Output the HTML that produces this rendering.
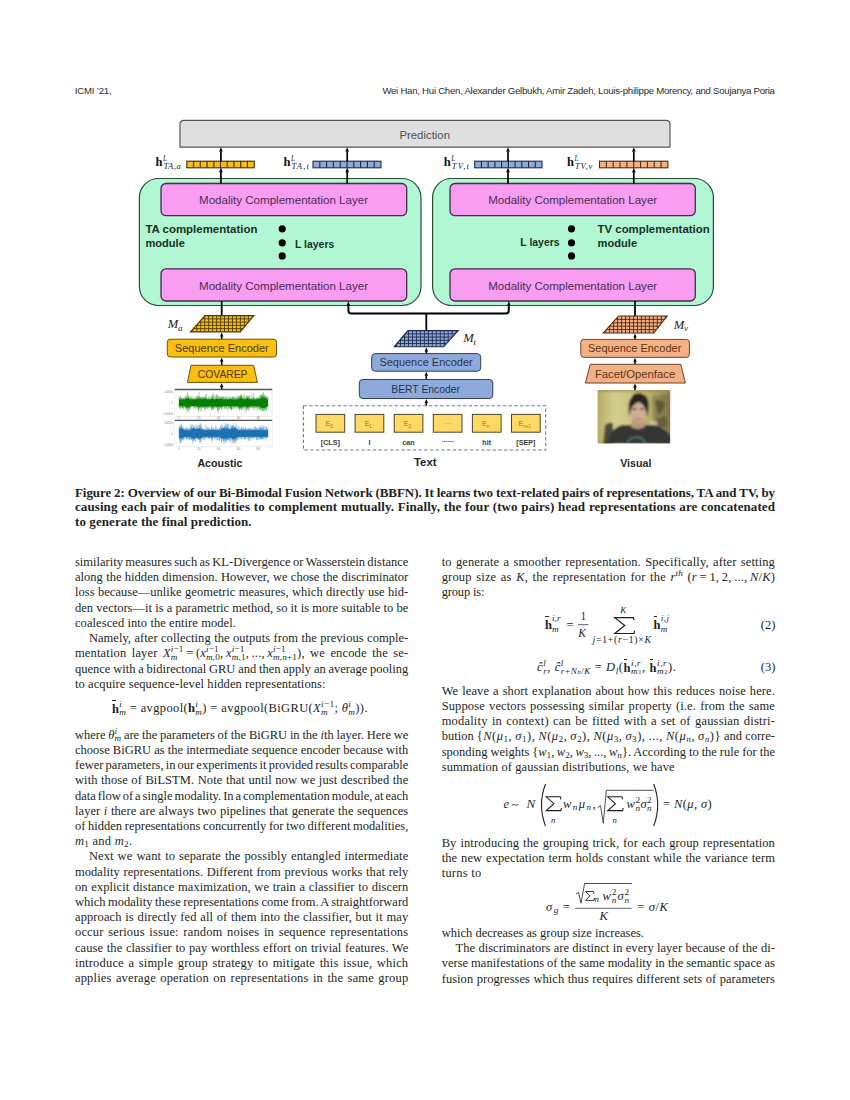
<!DOCTYPE html><html><head><meta charset="utf-8"><style>
html,body{margin:0;padding:0;background:#fff}
body{width:850px;height:1100px;position:relative;overflow:hidden}
.ln,.cap,.hd{position:absolute;white-space:nowrap;line-height:0;color:#231f20}
.ln{font-family:"Liberation Serif",serif;font-size:12.5px}
.cap{font-family:"Liberation Serif",serif;font-size:13px;font-weight:bold}
.hd{font-family:"Liberation Sans",sans-serif;font-size:9.6px;color:#2a2a2a}
.pr{display:inline-block;width:0;height:0}
.sp{font-size:9.2px;vertical-align:4.8px}
.sb{font-size:9.2px;vertical-align:-2.4px}
.ss{display:inline-block;font-size:9.2px;line-height:7.9px;vertical-align:-2.7px;word-spacing:0}
.ss>span{display:block}
.ss2{line-height:10.2px;vertical-align:-2.5px}
.hb{position:relative}
.hb::before{content:"";position:absolute;left:0.3px;top:-1.6px;width:3.4px;height:0.8px;background:#231f20}
.eqp{position:absolute;white-space:nowrap;line-height:0;font-family:"Liberation Serif",serif;color:#231f20}
</style></head><body><svg width="850" height="480" viewBox="0 0 850 480" style="position:absolute;left:0;top:0"><path d="M180,147.2 V124.3 Q180,120.3 184,120.3 H666 Q670,120.3 670,124.3 V147.2 Z" fill="#dfdfdf" stroke="#555" stroke-width="1.2"/><text x="399.4" y="138.9" font-family="Liberation Sans" font-size="11" font-weight="normal" font-style="normal" fill="#505050" text-anchor="start" textLength="50.6" lengthAdjust="spacingAndGlyphs">Prediction</text><rect x="186.8" y="161.2" width="67.39999999999998" height="6.600000000000023" fill="#fbbf12" stroke="#3a2c00" stroke-width="1.1"/><line x1="193.54" y1="161.2" x2="193.54" y2="167.8" stroke="#3a2c00" stroke-width="1.1"/><line x1="200.28" y1="161.2" x2="200.28" y2="167.8" stroke="#3a2c00" stroke-width="1.1"/><line x1="207.02" y1="161.2" x2="207.02" y2="167.8" stroke="#3a2c00" stroke-width="1.1"/><line x1="213.76" y1="161.2" x2="213.76" y2="167.8" stroke="#3a2c00" stroke-width="1.1"/><line x1="220.50" y1="161.2" x2="220.50" y2="167.8" stroke="#3a2c00" stroke-width="1.1"/><line x1="227.24" y1="161.2" x2="227.24" y2="167.8" stroke="#3a2c00" stroke-width="1.1"/><line x1="233.98" y1="161.2" x2="233.98" y2="167.8" stroke="#3a2c00" stroke-width="1.1"/><line x1="240.72" y1="161.2" x2="240.72" y2="167.8" stroke="#3a2c00" stroke-width="1.1"/><line x1="247.46" y1="161.2" x2="247.46" y2="167.8" stroke="#3a2c00" stroke-width="1.1"/><rect x="313" y="161.2" width="68" height="6.600000000000023" fill="#8eaadb" stroke="#1e2848" stroke-width="1.1"/><line x1="319.80" y1="161.2" x2="319.80" y2="167.8" stroke="#1e2848" stroke-width="1.1"/><line x1="326.60" y1="161.2" x2="326.60" y2="167.8" stroke="#1e2848" stroke-width="1.1"/><line x1="333.40" y1="161.2" x2="333.40" y2="167.8" stroke="#1e2848" stroke-width="1.1"/><line x1="340.20" y1="161.2" x2="340.20" y2="167.8" stroke="#1e2848" stroke-width="1.1"/><line x1="347.00" y1="161.2" x2="347.00" y2="167.8" stroke="#1e2848" stroke-width="1.1"/><line x1="353.80" y1="161.2" x2="353.80" y2="167.8" stroke="#1e2848" stroke-width="1.1"/><line x1="360.60" y1="161.2" x2="360.60" y2="167.8" stroke="#1e2848" stroke-width="1.1"/><line x1="367.40" y1="161.2" x2="367.40" y2="167.8" stroke="#1e2848" stroke-width="1.1"/><line x1="374.20" y1="161.2" x2="374.20" y2="167.8" stroke="#1e2848" stroke-width="1.1"/><rect x="474.7" y="161.2" width="67.30000000000001" height="6.600000000000023" fill="#8eaadb" stroke="#1e2848" stroke-width="1.1"/><line x1="481.43" y1="161.2" x2="481.43" y2="167.8" stroke="#1e2848" stroke-width="1.1"/><line x1="488.16" y1="161.2" x2="488.16" y2="167.8" stroke="#1e2848" stroke-width="1.1"/><line x1="494.89" y1="161.2" x2="494.89" y2="167.8" stroke="#1e2848" stroke-width="1.1"/><line x1="501.62" y1="161.2" x2="501.62" y2="167.8" stroke="#1e2848" stroke-width="1.1"/><line x1="508.35" y1="161.2" x2="508.35" y2="167.8" stroke="#1e2848" stroke-width="1.1"/><line x1="515.08" y1="161.2" x2="515.08" y2="167.8" stroke="#1e2848" stroke-width="1.1"/><line x1="521.81" y1="161.2" x2="521.81" y2="167.8" stroke="#1e2848" stroke-width="1.1"/><line x1="528.54" y1="161.2" x2="528.54" y2="167.8" stroke="#1e2848" stroke-width="1.1"/><line x1="535.27" y1="161.2" x2="535.27" y2="167.8" stroke="#1e2848" stroke-width="1.1"/><rect x="599.5" y="161.2" width="68.39999999999998" height="6.600000000000023" fill="#f4b183" stroke="#4a2a18" stroke-width="1.1"/><line x1="606.34" y1="161.2" x2="606.34" y2="167.8" stroke="#4a2a18" stroke-width="1.1"/><line x1="613.18" y1="161.2" x2="613.18" y2="167.8" stroke="#4a2a18" stroke-width="1.1"/><line x1="620.02" y1="161.2" x2="620.02" y2="167.8" stroke="#4a2a18" stroke-width="1.1"/><line x1="626.86" y1="161.2" x2="626.86" y2="167.8" stroke="#4a2a18" stroke-width="1.1"/><line x1="633.70" y1="161.2" x2="633.70" y2="167.8" stroke="#4a2a18" stroke-width="1.1"/><line x1="640.54" y1="161.2" x2="640.54" y2="167.8" stroke="#4a2a18" stroke-width="1.1"/><line x1="647.38" y1="161.2" x2="647.38" y2="167.8" stroke="#4a2a18" stroke-width="1.1"/><line x1="654.22" y1="161.2" x2="654.22" y2="167.8" stroke="#4a2a18" stroke-width="1.1"/><line x1="661.06" y1="161.2" x2="661.06" y2="167.8" stroke="#4a2a18" stroke-width="1.1"/><text x="155.4" y="165.6" font-family="Liberation Serif" font-size="12.6" font-weight="bold" fill="#111">h</text><text x="163.0" y="160.6" font-family="Liberation Serif" font-size="7.6" font-style="italic" fill="#222" textLength="4" lengthAdjust="spacingAndGlyphs">L</text><text x="163.4" y="168.5" font-family="Liberation Serif" font-size="8.6" font-style="italic" fill="#222" textLength="17.3" lengthAdjust="spacing">TA,a</text><text x="283.5" y="165.6" font-family="Liberation Serif" font-size="12.6" font-weight="bold" fill="#111">h</text><text x="291.1" y="160.6" font-family="Liberation Serif" font-size="7.6" font-style="italic" fill="#222" textLength="4" lengthAdjust="spacingAndGlyphs">L</text><text x="291.5" y="168.5" font-family="Liberation Serif" font-size="8.6" font-style="italic" fill="#222" textLength="17.3" lengthAdjust="spacing">TA,t</text><text x="443.7" y="165.6" font-family="Liberation Serif" font-size="12.6" font-weight="bold" fill="#111">h</text><text x="451.3" y="160.6" font-family="Liberation Serif" font-size="7.6" font-style="italic" fill="#222" textLength="4" lengthAdjust="spacingAndGlyphs">L</text><text x="451.7" y="168.5" font-family="Liberation Serif" font-size="8.6" font-style="italic" fill="#222" textLength="17.3" lengthAdjust="spacing">TV,t</text><text x="567" y="165.6" font-family="Liberation Serif" font-size="12.6" font-weight="bold" fill="#111">h</text><text x="574.6" y="160.6" font-family="Liberation Serif" font-size="7.6" font-style="italic" fill="#222" textLength="4" lengthAdjust="spacingAndGlyphs">L</text><text x="575" y="168.5" font-family="Liberation Serif" font-size="8.6" font-style="italic" fill="#222" textLength="17.3" lengthAdjust="spacing">TV,v</text><rect x="139.4" y="178.5" width="281.6" height="127" rx="19" ry="19" fill="#b2f7d3" stroke="#2c4a3a" stroke-width="1.2"/><rect x="432.6" y="178.5" width="280.8" height="127" rx="19" ry="19" fill="#b2f7d3" stroke="#2c4a3a" stroke-width="1.2"/><rect x="161" y="183.5" width="245.7" height="32.2" rx="5" ry="5" fill="#f99df2" stroke="#4a2a48" stroke-width="1.3"/><rect x="161" y="268.8" width="245.7" height="32.2" rx="5" ry="5" fill="#f99df2" stroke="#4a2a48" stroke-width="1.3"/><rect x="450" y="183.5" width="245.29999999999995" height="32.2" rx="5" ry="5" fill="#f99df2" stroke="#4a2a48" stroke-width="1.3"/><rect x="450" y="268.8" width="245.29999999999995" height="32.2" rx="5" ry="5" fill="#f99df2" stroke="#4a2a48" stroke-width="1.3"/><text x="199" y="203.9" font-family="Liberation Sans" font-size="11" font-weight="normal" font-style="normal" fill="#4a2c55" text-anchor="start" textLength="169" lengthAdjust="spacingAndGlyphs">Modality Complementation Layer</text><text x="199" y="289.5" font-family="Liberation Sans" font-size="11" font-weight="normal" font-style="normal" fill="#4a2c55" text-anchor="start" textLength="169" lengthAdjust="spacingAndGlyphs">Modality Complementation Layer</text><text x="488.2" y="203.9" font-family="Liberation Sans" font-size="11" font-weight="normal" font-style="normal" fill="#4a2c55" text-anchor="start" textLength="169" lengthAdjust="spacingAndGlyphs">Modality Complementation Layer</text><text x="488.2" y="289.5" font-family="Liberation Sans" font-size="11" font-weight="normal" font-style="normal" fill="#4a2c55" text-anchor="start" textLength="169" lengthAdjust="spacingAndGlyphs">Modality Complementation Layer</text><text x="145.4" y="233.2" font-family="Liberation Sans" font-size="11" font-weight="bold" font-style="normal" fill="#17301f" text-anchor="start" textLength="112" lengthAdjust="spacingAndGlyphs">TA complementation</text><text x="145.4" y="247.4" font-family="Liberation Sans" font-size="11" font-weight="bold" font-style="normal" fill="#17301f" text-anchor="start" textLength="39.5" lengthAdjust="spacingAndGlyphs">module</text><text x="597.6" y="233.2" font-family="Liberation Sans" font-size="11" font-weight="bold" font-style="normal" fill="#17301f" text-anchor="start" textLength="112" lengthAdjust="spacingAndGlyphs">TV complementation</text><text x="597.6" y="247.4" font-family="Liberation Sans" font-size="11" font-weight="bold" font-style="normal" fill="#17301f" text-anchor="start" textLength="39.5" lengthAdjust="spacingAndGlyphs">module</text><text x="295" y="247.6" font-family="Liberation Sans" font-size="11" font-weight="bold" font-style="normal" fill="#17301f" text-anchor="start" textLength="39.3" lengthAdjust="spacingAndGlyphs">L layers</text><text x="520.3" y="246.3" font-family="Liberation Sans" font-size="11" font-weight="bold" font-style="normal" fill="#17301f" text-anchor="start" textLength="39.3" lengthAdjust="spacingAndGlyphs">L layers</text><circle cx="282.2" cy="228.8" r="3.6" fill="#000"/><circle cx="282.2" cy="242.8" r="3.6" fill="#000"/><circle cx="282.2" cy="255.9" r="3.6" fill="#000"/><circle cx="571.5" cy="228.8" r="3.6" fill="#000"/><circle cx="571.5" cy="242.8" r="3.6" fill="#000"/><circle cx="571.5" cy="255.9" r="3.6" fill="#000"/><line x1="220.9" y1="183.5" x2="220.9" y2="172" stroke="#000" stroke-width="1.7"/><path d="M220.9,167.6 L219.1,172.2 L222.70000000000002,172.2 Z" fill="#000"/><line x1="220.9" y1="161.5" x2="220.9" y2="152" stroke="#000" stroke-width="1.7"/><path d="M220.9,147.2 L219.1,151.79999999999998 L222.70000000000002,151.79999999999998 Z" fill="#000"/><line x1="347.2" y1="183.5" x2="347.2" y2="172" stroke="#000" stroke-width="1.7"/><path d="M347.2,167.6 L345.4,172.2 L349.0,172.2 Z" fill="#000"/><line x1="347.2" y1="161.5" x2="347.2" y2="152" stroke="#000" stroke-width="1.7"/><path d="M347.2,147.2 L345.4,151.79999999999998 L349.0,151.79999999999998 Z" fill="#000"/><line x1="508" y1="183.5" x2="508" y2="172" stroke="#000" stroke-width="1.7"/><path d="M508,167.6 L506.2,172.2 L509.8,172.2 Z" fill="#000"/><line x1="508" y1="161.5" x2="508" y2="152" stroke="#000" stroke-width="1.7"/><path d="M508,147.2 L506.2,151.79999999999998 L509.8,151.79999999999998 Z" fill="#000"/><line x1="633.8" y1="183.5" x2="633.8" y2="172" stroke="#000" stroke-width="1.7"/><path d="M633.8,167.6 L632.0,172.2 L635.5999999999999,172.2 Z" fill="#000"/><line x1="633.8" y1="161.5" x2="633.8" y2="152" stroke="#000" stroke-width="1.7"/><path d="M633.8,147.2 L632.0,151.79999999999998 L635.5999999999999,151.79999999999998 Z" fill="#000"/><path d="M348.4,305 V310.5 Q348.4,313.5 351.4,313.5 H505.8 Q508.8,313.5 508.8,310.5 V305" fill="none" stroke="#000" stroke-width="2"/><path d="M348.4,301 L346.59999999999997,305.6 L350.2,305.6 Z" fill="#000"/><path d="M508.8,301 L507.0,305.6 L510.6,305.6 Z" fill="#000"/><line x1="426.3" y1="313.5" x2="426.3" y2="331" stroke="#000" stroke-width="1.8"/><line x1="221.7" y1="301" x2="221.7" y2="316" stroke="#000" stroke-width="1.8"/><defs><clipPath id="pc7"><path d="M204.9,315.6 L253.9,315.6 L240.2,331.9 L190.4,331.9 Z"/></clipPath></defs><path d="M204.9,315.6 L253.9,315.6 L240.2,331.9 L190.4,331.9 Z" fill="#fbbf12"/><g clip-path="url(#pc7)"><line x1="192.78" y1="315.6" x2="192.78" y2="331.9" stroke="#4a3a08" stroke-width="0.9"/><line x1="196.75" y1="315.6" x2="196.75" y2="331.9" stroke="#4a3a08" stroke-width="0.9"/><line x1="200.72" y1="315.6" x2="200.72" y2="331.9" stroke="#4a3a08" stroke-width="0.9"/><line x1="204.69" y1="315.6" x2="204.69" y2="331.9" stroke="#4a3a08" stroke-width="0.9"/><line x1="208.66" y1="315.6" x2="208.66" y2="331.9" stroke="#4a3a08" stroke-width="0.9"/><line x1="212.63" y1="315.6" x2="212.63" y2="331.9" stroke="#4a3a08" stroke-width="0.9"/><line x1="216.60" y1="315.6" x2="216.60" y2="331.9" stroke="#4a3a08" stroke-width="0.9"/><line x1="220.57" y1="315.6" x2="220.57" y2="331.9" stroke="#4a3a08" stroke-width="0.9"/><line x1="224.54" y1="315.6" x2="224.54" y2="331.9" stroke="#4a3a08" stroke-width="0.9"/><line x1="228.51" y1="315.6" x2="228.51" y2="331.9" stroke="#4a3a08" stroke-width="0.9"/><line x1="232.48" y1="315.6" x2="232.48" y2="331.9" stroke="#4a3a08" stroke-width="0.9"/><line x1="236.45" y1="315.6" x2="236.45" y2="331.9" stroke="#4a3a08" stroke-width="0.9"/><line x1="240.42" y1="315.6" x2="240.42" y2="331.9" stroke="#4a3a08" stroke-width="0.9"/><line x1="244.39" y1="315.6" x2="244.39" y2="331.9" stroke="#4a3a08" stroke-width="0.9"/><line x1="248.36" y1="315.6" x2="248.36" y2="331.9" stroke="#4a3a08" stroke-width="0.9"/><line x1="252.33" y1="315.6" x2="252.33" y2="331.9" stroke="#4a3a08" stroke-width="0.9"/><line x1="190.4" y1="318.86" x2="253.9" y2="318.86" stroke="#4a3a08" stroke-width="0.9"/><line x1="190.4" y1="322.12" x2="253.9" y2="322.12" stroke="#4a3a08" stroke-width="0.9"/><line x1="190.4" y1="325.38" x2="253.9" y2="325.38" stroke="#4a3a08" stroke-width="0.9"/><line x1="190.4" y1="328.64" x2="253.9" y2="328.64" stroke="#4a3a08" stroke-width="0.9"/></g><path d="M204.9,315.6 L253.9,315.6 L240.2,331.9 L190.4,331.9 Z" fill="none" stroke="#4a3a08" stroke-width="1.1"/><path d="M221.7,332.5 L220.0,336.5 L223.39999999999998,336.5 Z" fill="#000"/><line x1="221.7" y1="336" x2="221.7" y2="339.5" stroke="#000" stroke-width="1.6"/><rect x="167.3" y="339.2" width="109.2" height="17.8" rx="3" ry="3" fill="#fbbf12" stroke="#6a5210" stroke-width="1"/><text x="174.8" y="352.4" font-family="Liberation Sans" font-size="11" font-weight="normal" font-style="normal" fill="#4e3a08" text-anchor="start" textLength="94" lengthAdjust="spacingAndGlyphs">Sequence Encoder</text><path d="M221.7,357.5 L220.0,361.5 L223.39999999999998,361.5 Z" fill="#000"/><line x1="221.7" y1="361" x2="221.7" y2="365.3" stroke="#000" stroke-width="1.6"/><path d="M191,365.3 L253.6,365.3 L257.4,382.4 L187.5,382.4 Z" fill="#fbbf12" stroke="#6a5210" stroke-width="1"/><text x="197.8" y="378.2" font-family="Liberation Sans" font-size="11" font-weight="normal" font-style="normal" fill="#4e3a08" text-anchor="start" textLength="49.7" lengthAdjust="spacingAndGlyphs">COVAREP</text><path d="M221.7,383 L220.0,387 L223.39999999999998,387 Z" fill="#000"/><line x1="221.7" y1="386" x2="221.7" y2="389.5" stroke="#000" stroke-width="1.6"/><rect x="174.8" y="389.5" width="97.4" height="26.8" fill="#fff" stroke="#e3e3e3" stroke-width="0.6"/><line x1="174.8" y1="389.5" x2="272.2" y2="389.5" stroke="#555" stroke-width="1.3"/><polygon points="179.00,399.60 179.25,399.60 179.50,399.60 179.75,399.60 180.00,399.60 180.25,399.60 180.50,399.60 180.75,399.60 181.01,399.60 181.26,399.60 181.51,399.60 181.76,399.60 182.01,399.60 182.26,399.60 182.51,399.60 182.76,399.60 183.01,399.60 183.26,399.60 183.51,399.60 183.76,399.60 184.01,399.60 184.26,399.60 184.52,399.60 184.77,399.60 185.02,399.48 185.27,399.23 185.52,399.12 185.77,398.78 186.02,398.71 186.27,398.50 186.52,398.50 186.77,398.22 187.02,398.21 187.27,398.13 187.52,398.03 187.77,397.93 188.03,398.14 188.28,398.32 188.53,398.51 188.78,398.59 189.03,398.82 189.28,398.94 189.53,399.03 189.78,399.08 190.03,399.27 190.28,399.39 190.53,399.60 190.78,399.60 191.03,399.60 191.28,399.60 191.54,399.60 191.79,399.60 192.04,399.60 192.29,399.60 192.54,399.60 192.79,399.60 193.04,399.60 193.29,399.60 193.54,399.60 193.79,399.60 194.04,399.60 194.29,399.60 194.54,399.59 194.79,399.60 195.05,399.60 195.30,399.60 195.55,399.60 195.80,399.60 196.05,399.60 196.30,399.44 196.55,399.40 196.80,399.42 197.05,399.24 197.30,399.25 197.55,399.22 197.80,398.95 198.05,398.87 198.30,398.74 198.55,398.72 198.81,398.65 199.06,398.76 199.31,398.68 199.56,398.84 199.81,398.90 200.06,399.12 200.31,399.12 200.56,399.22 200.81,399.21 201.06,399.27 201.31,399.21 201.56,399.38 201.81,399.50 202.06,399.45 202.32,399.24 202.57,399.27 202.82,399.22 203.07,399.20 203.32,399.27 203.57,399.34 203.82,399.21 204.07,399.12 204.32,398.97 204.57,398.82 204.82,398.81 205.07,398.95 205.32,398.97 205.57,398.99 205.83,399.07 206.08,399.14 206.33,399.14 206.58,399.20 206.83,399.22 207.08,399.28 207.33,399.35 207.58,399.33 207.83,399.37 208.08,399.41 208.33,399.60 208.58,399.60 208.83,399.60 209.08,399.60 209.34,399.60 209.59,399.60 209.84,399.60 210.09,399.60 210.34,399.51 210.59,399.47 210.84,399.42 211.09,399.28 211.34,399.18 211.59,398.99 211.84,398.79 212.09,398.55 212.34,398.57 212.59,398.57 212.85,398.76 213.10,398.86 213.35,399.16 213.60,399.24 213.85,399.31 214.10,399.29 214.35,399.43 214.60,399.34 214.85,399.39 215.10,399.41 215.35,399.50 215.60,399.46 215.85,399.43 216.10,399.24 216.35,399.08 216.61,398.93 216.86,398.69 217.11,398.65 217.36,398.69 217.61,398.72 217.86,398.89 218.11,398.98 218.36,399.16 218.61,399.17 218.86,399.18 219.11,399.02 219.36,399.08 219.61,399.00 219.86,398.98 220.12,398.96 220.37,398.98 220.62,398.90 220.87,398.79 221.12,398.78 221.37,398.79 221.62,398.81 221.87,399.03 222.12,399.14 222.37,399.34 222.62,399.38 222.87,399.46 223.12,399.60 223.37,399.60 223.63,399.60 223.88,399.60 224.13,399.60 224.38,399.60 224.63,399.60 224.88,399.60 225.13,399.60 225.38,399.60 225.63,399.60 225.88,399.60 226.13,399.60 226.38,399.60 226.63,399.60 226.88,399.60 227.14,399.60 227.39,399.60 227.64,399.60 227.89,399.60 228.14,399.60 228.39,399.60 228.64,399.60 228.89,399.60 229.14,399.60 229.39,399.60 229.64,399.49 229.89,399.35 230.14,399.25 230.39,399.11 230.65,399.08 230.90,399.03 231.15,399.30 231.40,399.22 231.65,399.39 231.90,399.54 232.15,399.60 232.40,399.60 232.65,399.60 232.90,399.60 233.15,399.60 233.40,399.60 233.65,399.60 233.90,399.60 234.15,399.60 234.41,399.60 234.66,399.60 234.91,399.60 235.16,399.60 235.41,399.60 235.66,399.60 235.91,399.60 236.16,399.60 236.41,399.60 236.66,399.60 236.91,399.60 237.16,399.50 237.41,399.60 237.66,399.51 237.92,399.31 238.17,399.24 238.42,399.11 238.67,398.83 238.92,398.77 239.17,398.73 239.42,398.67 239.67,398.71 239.92,398.55 240.17,398.51 240.42,398.37 240.67,398.26 240.92,398.17 241.17,398.33 241.43,398.49 241.68,398.73 241.93,398.81 242.18,399.07 242.43,399.27 242.68,399.21 242.93,399.31 243.18,399.53 243.43,399.58 243.68,399.49 243.93,399.60 244.18,399.52 244.43,399.32 244.68,399.27 244.94,399.38 245.19,399.38 245.44,399.38 245.69,399.32 245.94,399.18 246.19,398.91 246.44,398.68 246.69,398.47 246.94,398.39 247.19,398.29 247.44,398.31 247.69,398.36 247.94,398.45 248.19,398.61 248.45,398.82 248.70,398.91 248.95,399.06 249.20,399.08 249.45,399.17 249.70,399.36 249.95,399.54 250.20,399.60 250.45,399.60 250.70,399.60 250.95,399.60 251.20,399.60 251.45,399.60 251.70,399.60 251.95,399.60 252.21,399.60 252.46,399.60 252.71,399.60 252.96,399.60 253.21,399.60 253.46,399.60 253.71,399.60 253.96,399.60 254.21,399.60 254.46,399.60 254.71,399.60 254.96,399.60 255.21,399.60 255.46,399.60 255.72,399.60 255.97,399.60 256.22,399.54 256.47,399.51 256.72,399.55 256.97,399.43 257.22,399.21 257.47,399.23 257.72,399.15 257.97,399.29 258.22,399.31 258.47,399.25 258.72,399.23 258.97,399.24 259.23,399.12 259.48,398.98 259.73,399.02 259.98,398.99 260.23,398.81 260.48,398.62 260.73,398.50 260.98,398.45 261.23,398.14 261.48,398.04 261.73,397.97 261.98,397.96 262.23,397.86 262.48,397.85 262.74,397.85 262.99,397.73 263.24,397.63 263.49,397.51 263.74,397.51 263.99,397.50 264.24,397.73 264.49,397.80 264.74,397.90 264.99,398.04 265.24,398.12 265.49,398.16 265.74,398.37 265.99,398.67 266.25,398.79 266.50,399.01 266.75,399.21 267.00,399.47 267.25,399.60 267.50,399.60 267.75,399.60 268.00,399.60 268.00,406.00 267.75,406.00 267.50,406.00 267.25,406.00 267.00,406.13 266.75,406.39 266.50,406.59 266.25,406.81 265.99,406.93 265.74,407.23 265.49,407.44 265.24,407.48 264.99,407.56 264.74,407.70 264.49,407.80 264.24,407.87 263.99,408.10 263.74,408.09 263.49,408.09 263.24,407.97 262.99,407.87 262.74,407.75 262.48,407.75 262.23,407.74 261.98,407.64 261.73,407.63 261.48,407.56 261.23,407.46 260.98,407.15 260.73,407.10 260.48,406.98 260.23,406.79 259.98,406.61 259.73,406.58 259.48,406.62 259.23,406.48 258.97,406.36 258.72,406.37 258.47,406.35 258.22,406.29 257.97,406.31 257.72,406.45 257.47,406.37 257.22,406.39 256.97,406.17 256.72,406.05 256.47,406.09 256.22,406.06 255.97,406.00 255.72,406.00 255.46,406.00 255.21,406.00 254.96,406.00 254.71,406.00 254.46,406.00 254.21,406.00 253.96,406.00 253.71,406.00 253.46,406.00 253.21,406.00 252.96,406.00 252.71,406.00 252.46,406.00 252.21,406.00 251.95,406.00 251.70,406.00 251.45,406.00 251.20,406.00 250.95,406.00 250.70,406.00 250.45,406.00 250.20,406.00 249.95,406.06 249.70,406.24 249.45,406.43 249.20,406.52 248.95,406.54 248.70,406.69 248.45,406.78 248.19,406.99 247.94,407.15 247.69,407.24 247.44,407.29 247.19,407.31 246.94,407.21 246.69,407.13 246.44,406.92 246.19,406.69 245.94,406.42 245.69,406.28 245.44,406.22 245.19,406.22 244.94,406.22 244.68,406.33 244.43,406.28 244.18,406.08 243.93,406.00 243.68,406.11 243.43,406.02 243.18,406.07 242.93,406.29 242.68,406.39 242.43,406.33 242.18,406.53 241.93,406.79 241.68,406.87 241.43,407.11 241.17,407.27 240.92,407.43 240.67,407.34 240.42,407.23 240.17,407.09 239.92,407.05 239.67,406.89 239.42,406.93 239.17,406.87 238.92,406.83 238.67,406.77 238.42,406.49 238.17,406.36 237.92,406.29 237.66,406.09 237.41,406.00 237.16,406.10 236.91,406.00 236.66,406.00 236.41,406.00 236.16,406.00 235.91,406.00 235.66,406.00 235.41,406.00 235.16,406.00 234.91,406.00 234.66,406.00 234.41,406.00 234.15,406.00 233.90,406.00 233.65,406.00 233.40,406.00 233.15,406.00 232.90,406.00 232.65,406.00 232.40,406.00 232.15,406.00 231.90,406.06 231.65,406.21 231.40,406.38 231.15,406.30 230.90,406.57 230.65,406.52 230.39,406.49 230.14,406.35 229.89,406.25 229.64,406.11 229.39,406.00 229.14,406.00 228.89,406.00 228.64,406.00 228.39,406.00 228.14,406.00 227.89,406.00 227.64,406.00 227.39,406.00 227.14,406.00 226.88,406.00 226.63,406.00 226.38,406.00 226.13,406.00 225.88,406.00 225.63,406.00 225.38,406.00 225.13,406.00 224.88,406.00 224.63,406.00 224.38,406.00 224.13,406.00 223.88,406.00 223.63,406.00 223.37,406.00 223.12,406.00 222.87,406.14 222.62,406.22 222.37,406.26 222.12,406.46 221.87,406.57 221.62,406.79 221.37,406.81 221.12,406.82 220.87,406.81 220.62,406.70 220.37,406.62 220.12,406.64 219.86,406.62 219.61,406.60 219.36,406.52 219.11,406.58 218.86,406.42 218.61,406.43 218.36,406.44 218.11,406.62 217.86,406.71 217.61,406.88 217.36,406.91 217.11,406.95 216.86,406.91 216.61,406.67 216.35,406.52 216.10,406.36 215.85,406.17 215.60,406.14 215.35,406.10 215.10,406.19 214.85,406.21 214.60,406.26 214.35,406.17 214.10,406.31 213.85,406.29 213.60,406.36 213.35,406.44 213.10,406.74 212.85,406.84 212.59,407.03 212.34,407.03 212.09,407.05 211.84,406.81 211.59,406.61 211.34,406.42 211.09,406.32 210.84,406.18 210.59,406.13 210.34,406.09 210.09,406.00 209.84,406.00 209.59,406.00 209.34,406.00 209.08,406.00 208.83,406.00 208.58,406.00 208.33,406.00 208.08,406.19 207.83,406.23 207.58,406.27 207.33,406.25 207.08,406.32 206.83,406.38 206.58,406.40 206.33,406.46 206.08,406.46 205.83,406.53 205.57,406.61 205.32,406.63 205.07,406.65 204.82,406.79 204.57,406.78 204.32,406.63 204.07,406.48 203.82,406.39 203.57,406.26 203.32,406.33 203.07,406.40 202.82,406.38 202.57,406.33 202.32,406.36 202.06,406.15 201.81,406.10 201.56,406.22 201.31,406.39 201.06,406.33 200.81,406.39 200.56,406.38 200.31,406.48 200.06,406.48 199.81,406.70 199.56,406.76 199.31,406.92 199.06,406.84 198.81,406.95 198.55,406.88 198.30,406.86 198.05,406.73 197.80,406.65 197.55,406.38 197.30,406.35 197.05,406.36 196.80,406.18 196.55,406.20 196.30,406.16 196.05,406.00 195.80,406.00 195.55,406.00 195.30,406.00 195.05,406.00 194.79,406.00 194.54,406.01 194.29,406.00 194.04,406.00 193.79,406.00 193.54,406.00 193.29,406.00 193.04,406.00 192.79,406.00 192.54,406.00 192.29,406.00 192.04,406.00 191.79,406.00 191.54,406.00 191.28,406.00 191.03,406.00 190.78,406.00 190.53,406.00 190.28,406.21 190.03,406.33 189.78,406.52 189.53,406.57 189.28,406.66 189.03,406.78 188.78,407.01 188.53,407.09 188.28,407.28 188.03,407.46 187.77,407.67 187.52,407.57 187.27,407.47 187.02,407.39 186.77,407.38 186.52,407.10 186.27,407.10 186.02,406.89 185.77,406.82 185.52,406.48 185.27,406.37 185.02,406.12 184.77,406.00 184.52,406.00 184.26,406.00 184.01,406.00 183.76,406.00 183.51,406.00 183.26,406.00 183.01,406.00 182.76,406.00 182.51,406.00 182.26,406.00 182.01,406.00 181.76,406.00 181.51,406.00 181.26,406.00 181.01,406.00 180.75,406.00 180.50,406.00 180.25,406.00 180.00,406.00 179.75,406.00 179.50,406.00 179.25,406.00 179.00,406.00" fill="#0a820a"/><path d="M179.00,398.71V407.39M179.25,396.86V408.74M179.50,397.72V407.51M179.75,397.38V407.04M180.00,398.11V407.50M180.25,396.72V406.44M180.50,395.71V409.92M180.75,398.25V407.88M181.01,398.94V406.87M181.26,398.16V407.11M181.51,398.56V406.27M181.76,397.64V408.45M182.01,399.41V406.15M182.26,399.22V407.99M182.51,397.58V408.55M182.76,399.36V408.12M183.01,398.47V406.17M183.26,398.67V408.06M183.51,398.06V409.41M183.76,398.55V409.03M184.01,397.15V407.23M184.26,398.82V407.53M184.52,398.75V406.89M184.77,399.50V406.06M185.02,397.38V407.55M185.27,398.21V407.50M185.52,396.53V408.68M185.77,395.68V406.90M186.02,398.33V408.98M186.27,397.48V409.25M186.52,396.64V408.89M186.77,398.00V407.70M187.02,393.43V413.80M187.27,397.85V407.51M187.52,391.80V408.17M187.77,397.91V410.81M188.03,395.94V411.84M188.28,397.74V407.66M188.53,395.29V409.30M188.78,395.93V410.51M189.03,395.46V408.21M189.28,398.87V409.47M189.53,398.36V406.82M189.78,398.76V408.36M190.03,398.45V410.08M190.28,396.57V407.60M190.53,397.52V408.55M190.78,398.24V408.35M191.03,397.95V406.14M191.28,396.49V406.18M191.54,398.59V406.63M191.79,396.37V406.34M192.04,399.08V406.59M192.29,398.76V406.31M192.54,399.59V406.52M192.79,395.91V406.78M193.04,399.53V406.38M193.29,398.31V408.27M193.54,398.27V406.08M193.79,398.55V406.09M194.04,398.64V407.66M194.29,398.62V408.77M194.54,398.96V406.38M194.79,398.75V407.81M195.05,399.00V406.51M195.30,399.03V406.06M195.55,397.26V408.16M195.80,396.35V406.51M196.05,398.83V406.51M196.30,397.86V409.14M196.55,396.11V407.16M196.80,396.85V406.35M197.05,398.41V406.66M197.30,397.34V408.19M197.55,398.42V407.41M197.80,394.99V409.65M198.05,397.50V406.78M198.30,395.90V409.19M198.55,398.54V411.10M198.81,396.21V412.49M199.06,391.80V409.36M199.31,396.05V408.09M199.56,398.32V408.21M199.81,396.84V407.19M200.06,397.38V407.51M200.31,398.25V407.81M200.56,398.11V407.30M200.81,396.40V411.92M201.06,397.70V410.94M201.31,398.30V407.20M201.56,397.23V408.43M201.81,397.95V407.67M202.06,396.90V408.35M202.32,396.91V406.84M202.57,397.64V407.83M202.82,397.56V408.14M203.07,397.06V407.05M203.32,399.24V406.99M203.57,396.78V406.82M203.82,397.68V407.96M204.07,398.43V408.14M204.32,397.09V409.30M204.57,398.13V407.32M204.82,395.63V407.37M205.07,397.35V410.73M205.32,396.23V410.42M205.57,398.21V407.74M205.83,393.66V409.29M206.08,397.17V406.49M206.33,398.80V406.79M206.58,394.08V408.04M206.83,397.85V406.73M207.08,398.99V408.16M207.33,398.74V407.90M207.58,398.23V409.19M207.83,398.71V409.05M208.08,398.87V407.28M208.33,396.67V407.57M208.58,397.65V406.96M208.83,398.74V408.37M209.08,397.99V408.04M209.34,399.24V406.07M209.59,398.76V406.86M209.84,396.92V408.15M210.09,399.30V407.60M210.34,398.12V406.23M210.59,399.20V406.57M210.84,396.04V408.23M211.09,396.69V406.38M211.34,398.08V409.59M211.59,398.20V411.37M211.84,397.38V408.66M212.09,394.41V409.52M212.34,396.38V408.28M212.59,396.56V409.12M212.85,398.49V408.92M213.10,392.79V408.91M213.35,394.06V406.83M213.60,398.53V409.21M213.85,395.71V407.45M214.10,399.13V409.33M214.35,399.03V407.96M214.60,399.16V407.44M214.85,396.51V406.96M215.10,397.79V407.40M215.35,398.99V408.62M215.60,395.92V406.26M215.85,399.14V407.65M216.10,394.61V406.50M216.35,398.78V407.35M216.61,395.80V407.77M216.86,394.17V407.75M217.11,398.14V407.32M217.36,395.53V411.01M217.61,397.38V407.72M217.86,398.84V410.75M218.11,394.92V413.25M218.36,398.36V411.01M218.61,398.82V406.94M218.86,396.62V409.37M219.11,396.09V407.16M219.36,398.78V408.87M219.61,396.97V409.83M219.86,397.41V406.69M220.12,398.01V407.72M220.37,396.85V407.30M220.62,397.63V407.91M220.87,397.91V408.76M221.12,398.26V407.80M221.37,398.57V408.85M221.62,396.75V409.27M221.87,399.01V409.94M222.12,396.73V406.59M222.37,396.06V407.31M222.62,396.31V406.96M222.87,398.39V406.40M223.12,396.56V406.54M223.37,398.34V406.10M223.63,399.13V407.60M223.88,396.14V406.13M224.13,396.47V406.91M224.38,398.57V409.17M224.63,398.77V407.19M224.88,397.27V407.85M225.13,399.13V409.84M225.38,399.20V407.98M225.63,398.44V406.43M225.88,396.31V406.24M226.13,398.25V406.62M226.38,398.45V408.48M226.63,396.34V408.47M226.88,397.50V408.96M227.14,399.20V406.05M227.39,398.55V406.40M227.64,398.64V406.37M227.89,399.30V406.09M228.14,396.04V411.75M228.39,398.08V409.14M228.64,399.12V407.37M228.89,399.09V406.71M229.14,399.46V408.24M229.39,398.20V407.77M229.64,398.08V406.63M229.89,396.34V407.74M230.14,397.24V408.33M230.39,397.41V408.83M230.65,398.09V408.62M230.90,398.91V409.15M231.15,397.06V410.16M231.40,398.74V409.90M231.65,398.25V410.64M231.90,399.34V409.14M232.15,396.74V406.24M232.40,397.61V407.26M232.65,396.48V406.32M232.90,397.54V408.85M233.15,398.32V409.19M233.40,396.70V407.09M233.65,395.90V406.21M233.90,399.52V407.48M234.15,398.55V406.96M234.41,396.87V408.87M234.66,399.53V407.64M234.91,398.18V406.79M235.16,397.76V407.40M235.41,397.22V407.85M235.66,399.58V407.07M235.91,396.84V407.03M236.16,399.34V406.44M236.41,397.99V406.19M236.66,399.09V408.70M236.91,398.53V408.54M237.16,395.15V406.29M237.41,397.33V406.33M237.66,397.77V407.05M237.92,396.46V407.85M238.17,399.03V407.81M238.42,396.05V406.89M238.67,397.34V408.69M238.92,397.37V408.29M239.17,397.30V409.96M239.42,398.60V408.81M239.67,396.21V409.45M239.92,394.82V411.68M240.17,396.33V408.73M240.42,395.23V407.63M240.67,396.12V409.41M240.92,395.43V407.56M241.17,393.90V407.85M241.43,394.48V409.91M241.68,396.39V409.88M241.93,395.29V408.04M242.18,397.27V407.60M242.43,397.07V409.80M242.68,399.11V408.75M242.93,398.86V408.22M243.18,398.11V407.17M243.43,395.53V407.79M243.68,399.42V407.14M243.93,398.39V408.81M244.18,393.65V407.28M244.43,397.17V410.04M244.68,398.85V408.30M244.94,397.10V407.37M245.19,397.80V407.29M245.44,399.31V406.53M245.69,398.98V406.65M245.94,396.20V410.27M246.19,395.21V412.87M246.44,398.18V410.18M246.69,396.74V408.16M246.94,397.63V407.70M247.19,395.78V409.23M247.44,395.81V407.40M247.69,396.22V409.27M247.94,397.77V407.68M248.19,398.41V409.58M248.45,395.93V410.70M248.70,398.16V407.09M248.95,397.54V409.63M249.20,394.99V406.85M249.45,397.89V407.90M249.70,395.57V408.30M249.95,398.04V408.66M250.20,398.76V406.94M250.45,398.77V407.14M250.70,398.71V407.34M250.95,399.55V407.68M251.20,395.56V406.27M251.45,398.66V407.20M251.70,398.14V408.01M251.95,398.99V407.80M252.21,396.85V406.58M252.46,398.83V406.14M252.71,398.53V409.79M252.96,393.47V407.54M253.21,398.82V407.71M253.46,397.85V406.58M253.71,394.13V407.98M253.96,398.04V407.67M254.21,397.67V410.43M254.46,397.17V407.07M254.71,397.97V406.17M254.96,399.48V408.07M255.21,399.14V406.55M255.46,398.48V408.49M255.72,399.49V406.84M255.97,398.78V407.16M256.22,397.13V408.35M256.47,398.80V406.37M256.72,398.25V408.17M256.97,398.10V407.12M257.22,399.04V407.28M257.47,397.65V411.05M257.72,398.57V408.41M257.97,397.42V406.91M258.22,398.24V406.42M258.47,396.34V408.80M258.72,398.40V407.34M258.97,398.68V406.60M259.23,397.77V406.71M259.48,398.25V409.14M259.73,395.27V410.40M259.98,398.02V409.69M260.23,395.94V409.13M260.48,394.75V409.01M260.73,397.27V410.59M260.98,395.64V407.65M261.23,394.39V408.47M261.48,395.46V408.52M261.73,395.25V408.27M261.98,396.04V410.09M262.23,394.95V412.25M262.48,395.79V411.19M262.74,393.51V411.04M262.99,393.19V409.95M263.24,395.97V408.00M263.49,391.80V408.10M263.74,396.59V411.07M263.99,397.09V411.92M264.24,397.56V411.12M264.49,394.72V409.07M264.74,396.74V408.76M264.99,394.46V408.87M265.24,396.19V409.50M265.49,396.18V408.65M265.74,395.54V407.47M265.99,398.38V409.23M266.25,396.94V410.49M266.50,396.07V409.64M266.75,398.35V410.83M267.00,396.81V406.21M267.25,397.75V406.93M267.50,399.42V406.98M267.75,397.39V407.23M268.00,395.80V407.49" stroke="#0a820a" stroke-width="0.4" fill="none" opacity="0.7"/><rect x="174.8" y="420.3" width="97.4" height="26.4" fill="none" stroke="#e3e3e3" stroke-width="0.6"/><line x1="174.8" y1="420.3" x2="272.2" y2="420.3" stroke="#555" stroke-width="1.3"/><polygon points="179.00,430.30 179.25,429.78 179.50,428.92 179.75,428.84 180.00,428.69 180.25,428.78 180.50,428.74 180.75,428.64 181.01,428.59 181.26,428.55 181.51,428.61 181.76,428.70 182.01,428.80 182.26,428.93 182.51,429.22 182.76,429.35 183.01,429.52 183.26,429.58 183.51,429.67 183.76,429.84 184.01,430.02 184.26,430.11 184.52,430.30 184.77,430.30 185.02,430.30 185.27,430.30 185.52,430.30 185.77,430.30 186.02,430.30 186.27,430.30 186.52,430.30 186.77,430.30 187.02,430.30 187.27,430.30 187.52,430.30 187.77,430.30 188.03,430.30 188.28,430.30 188.53,430.30 188.78,430.30 189.03,430.30 189.28,430.30 189.53,430.30 189.78,430.30 190.03,430.30 190.28,430.21 190.53,429.97 190.78,429.87 191.03,429.58 191.28,429.52 191.54,429.40 191.79,429.22 192.04,428.98 192.29,428.81 192.54,428.40 192.79,428.23 193.04,428.20 193.29,428.13 193.54,428.15 193.79,428.39 194.04,428.46 194.29,428.50 194.54,428.61 194.79,428.84 195.05,428.96 195.30,429.05 195.55,429.26 195.80,429.34 196.05,429.36 196.30,429.30 196.55,429.27 196.80,429.15 197.05,429.14 197.30,429.00 197.55,429.11 197.80,429.09 198.05,428.97 198.30,428.98 198.55,428.84 198.81,428.77 199.06,428.61 199.31,428.68 199.56,428.50 199.81,428.60 200.06,428.65 200.31,428.70 200.56,428.65 200.81,428.81 201.06,428.96 201.31,428.99 201.56,429.26 201.81,429.42 202.06,429.58 202.32,429.70 202.57,429.88 202.82,430.00 203.07,430.29 203.32,430.30 203.57,430.30 203.82,430.30 204.07,430.30 204.32,430.30 204.57,430.30 204.82,430.30 205.07,430.30 205.32,430.30 205.57,430.30 205.83,430.30 206.08,430.30 206.33,430.30 206.58,430.30 206.83,430.30 207.08,430.30 207.33,430.30 207.58,430.30 207.83,430.30 208.08,430.30 208.33,430.30 208.58,430.30 208.83,430.30 209.08,430.30 209.34,430.30 209.59,430.30 209.84,430.30 210.09,430.30 210.34,430.30 210.59,430.30 210.84,430.25 211.09,430.04 211.34,429.83 211.59,429.63 211.84,429.53 212.09,429.68 212.34,429.70 212.59,429.90 212.85,430.11 213.10,430.30 213.35,430.30 213.60,430.30 213.85,430.30 214.10,430.30 214.35,430.30 214.60,430.30 214.85,430.30 215.10,430.30 215.35,430.30 215.60,430.30 215.85,430.30 216.10,430.30 216.35,430.30 216.61,430.30 216.86,430.30 217.11,430.30 217.36,430.30 217.61,430.30 217.86,430.30 218.11,430.30 218.36,430.30 218.61,430.30 218.86,430.30 219.11,430.30 219.36,430.30 219.61,430.01 219.86,429.85 220.12,429.89 220.37,429.65 220.62,429.50 220.87,429.43 221.12,429.19 221.37,428.99 221.62,428.99 221.87,428.91 222.12,428.86 222.37,428.89 222.62,428.72 222.87,428.56 223.12,428.47 223.37,428.44 223.63,428.36 223.88,428.45 224.13,428.52 224.38,428.55 224.63,428.57 224.88,428.54 225.13,428.48 225.38,428.33 225.63,428.47 225.88,428.40 226.13,428.46 226.38,428.52 226.63,428.78 226.88,428.75 227.14,428.79 227.39,428.82 227.64,428.85 227.89,428.80 228.14,428.72 228.39,428.81 228.64,428.98 228.89,429.06 229.14,429.20 229.39,429.51 229.64,429.56 229.89,429.33 230.14,429.28 230.39,429.22 230.65,429.05 230.90,428.91 231.15,428.95 231.40,428.91 231.65,428.78 231.90,428.66 232.15,428.62 232.40,428.52 232.65,428.45 232.90,428.45 233.15,428.37 233.40,428.42 233.65,428.35 233.90,428.43 234.15,428.36 234.41,428.41 234.66,428.48 234.91,428.48 235.16,428.36 235.41,428.46 235.66,428.51 235.91,428.51 236.16,428.93 236.41,429.15 236.66,429.26 236.91,429.46 237.16,429.71 237.41,429.70 237.66,429.88 237.92,429.95 238.17,430.07 238.42,430.13 238.67,430.14 238.92,430.28 239.17,430.30 239.42,430.30 239.67,430.30 239.92,430.30 240.17,430.30 240.42,430.30 240.67,430.30 240.92,430.30 241.17,430.30 241.43,430.30 241.68,430.30 241.93,430.30 242.18,430.30 242.43,430.30 242.68,430.30 242.93,430.30 243.18,430.30 243.43,430.30 243.68,430.30 243.93,430.16 244.18,430.05 244.43,430.03 244.68,429.92 244.94,429.91 245.19,429.91 245.44,429.91 245.69,430.00 245.94,430.30 246.19,430.30 246.44,430.30 246.69,430.30 246.94,430.30 247.19,430.30 247.44,430.30 247.69,430.30 247.94,430.30 248.19,430.30 248.45,430.30 248.70,430.30 248.95,430.30 249.20,430.30 249.45,430.30 249.70,430.30 249.95,430.30 250.20,430.30 250.45,430.30 250.70,430.30 250.95,430.30 251.20,430.30 251.45,430.30 251.70,430.30 251.95,430.30 252.21,430.30 252.46,430.30 252.71,430.30 252.96,430.30 253.21,430.30 253.46,430.30 253.71,430.30 253.96,430.30 254.21,430.30 254.46,430.30 254.71,430.30 254.96,430.30 255.21,430.30 255.46,430.30 255.72,430.30 255.97,430.30 256.22,430.30 256.47,430.30 256.72,430.30 256.97,430.30 257.22,430.30 257.47,430.30 257.72,430.30 257.97,430.30 258.22,430.30 258.47,430.30 258.72,430.30 258.97,430.30 259.23,430.17 259.48,430.13 259.73,430.05 259.98,429.93 260.23,430.00 260.48,429.98 260.73,429.82 260.98,429.71 261.23,429.77 261.48,429.85 261.73,429.96 261.98,430.20 262.23,430.30 262.48,430.30 262.74,430.30 262.99,430.30 263.24,430.30 263.49,430.30 263.74,430.30 263.99,430.30 264.24,430.30 264.49,430.30 264.74,430.30 264.99,430.30 265.24,430.30 265.49,430.30 265.74,430.30 265.99,430.30 266.25,430.30 266.50,430.30 266.75,430.30 267.00,430.30 267.25,430.30 267.50,430.30 267.75,430.30 268.00,430.30 268.00,436.70 267.75,436.70 267.50,436.70 267.25,436.70 267.00,436.70 266.75,436.70 266.50,436.70 266.25,436.70 265.99,436.70 265.74,436.70 265.49,436.70 265.24,436.70 264.99,436.70 264.74,436.70 264.49,436.70 264.24,436.70 263.99,436.70 263.74,436.70 263.49,436.70 263.24,436.70 262.99,436.70 262.74,436.70 262.48,436.70 262.23,436.70 261.98,436.80 261.73,437.04 261.48,437.15 261.23,437.23 260.98,437.29 260.73,437.18 260.48,437.02 260.23,437.00 259.98,437.07 259.73,436.95 259.48,436.87 259.23,436.83 258.97,436.70 258.72,436.70 258.47,436.70 258.22,436.70 257.97,436.70 257.72,436.70 257.47,436.70 257.22,436.70 256.97,436.70 256.72,436.70 256.47,436.70 256.22,436.70 255.97,436.70 255.72,436.70 255.46,436.70 255.21,436.70 254.96,436.70 254.71,436.70 254.46,436.70 254.21,436.70 253.96,436.70 253.71,436.70 253.46,436.70 253.21,436.70 252.96,436.70 252.71,436.70 252.46,436.70 252.21,436.70 251.95,436.70 251.70,436.70 251.45,436.70 251.20,436.70 250.95,436.70 250.70,436.70 250.45,436.70 250.20,436.70 249.95,436.70 249.70,436.70 249.45,436.70 249.20,436.70 248.95,436.70 248.70,436.70 248.45,436.70 248.19,436.70 247.94,436.70 247.69,436.70 247.44,436.70 247.19,436.70 246.94,436.70 246.69,436.70 246.44,436.70 246.19,436.70 245.94,436.70 245.69,437.00 245.44,437.09 245.19,437.09 244.94,437.09 244.68,437.08 244.43,436.97 244.18,436.95 243.93,436.84 243.68,436.70 243.43,436.70 243.18,436.70 242.93,436.70 242.68,436.70 242.43,436.70 242.18,436.70 241.93,436.70 241.68,436.70 241.43,436.70 241.17,436.70 240.92,436.70 240.67,436.70 240.42,436.70 240.17,436.70 239.92,436.70 239.67,436.70 239.42,436.70 239.17,436.70 238.92,436.72 238.67,436.86 238.42,436.87 238.17,436.93 237.92,437.05 237.66,437.12 237.41,437.30 237.16,437.29 236.91,437.54 236.66,437.74 236.41,437.85 236.16,438.07 235.91,438.49 235.66,438.49 235.41,438.54 235.16,438.64 234.91,438.52 234.66,438.52 234.41,438.59 234.15,438.64 233.90,438.57 233.65,438.65 233.40,438.58 233.15,438.63 232.90,438.55 232.65,438.55 232.40,438.48 232.15,438.38 231.90,438.34 231.65,438.22 231.40,438.09 231.15,438.05 230.90,438.09 230.65,437.95 230.39,437.78 230.14,437.72 229.89,437.67 229.64,437.44 229.39,437.49 229.14,437.80 228.89,437.94 228.64,438.02 228.39,438.19 228.14,438.28 227.89,438.20 227.64,438.15 227.39,438.18 227.14,438.21 226.88,438.25 226.63,438.22 226.38,438.48 226.13,438.54 225.88,438.60 225.63,438.53 225.38,438.67 225.13,438.52 224.88,438.46 224.63,438.43 224.38,438.45 224.13,438.48 223.88,438.55 223.63,438.64 223.37,438.56 223.12,438.53 222.87,438.44 222.62,438.28 222.37,438.11 222.12,438.14 221.87,438.09 221.62,438.01 221.37,438.01 221.12,437.81 220.87,437.57 220.62,437.50 220.37,437.35 220.12,437.11 219.86,437.15 219.61,436.99 219.36,436.70 219.11,436.70 218.86,436.70 218.61,436.70 218.36,436.70 218.11,436.70 217.86,436.70 217.61,436.70 217.36,436.70 217.11,436.70 216.86,436.70 216.61,436.70 216.35,436.70 216.10,436.70 215.85,436.70 215.60,436.70 215.35,436.70 215.10,436.70 214.85,436.70 214.60,436.70 214.35,436.70 214.10,436.70 213.85,436.70 213.60,436.70 213.35,436.70 213.10,436.70 212.85,436.89 212.59,437.10 212.34,437.30 212.09,437.32 211.84,437.47 211.59,437.37 211.34,437.17 211.09,436.96 210.84,436.75 210.59,436.70 210.34,436.70 210.09,436.70 209.84,436.70 209.59,436.70 209.34,436.70 209.08,436.70 208.83,436.70 208.58,436.70 208.33,436.70 208.08,436.70 207.83,436.70 207.58,436.70 207.33,436.70 207.08,436.70 206.83,436.70 206.58,436.70 206.33,436.70 206.08,436.70 205.83,436.70 205.57,436.70 205.32,436.70 205.07,436.70 204.82,436.70 204.57,436.70 204.32,436.70 204.07,436.70 203.82,436.70 203.57,436.70 203.32,436.70 203.07,436.71 202.82,437.00 202.57,437.12 202.32,437.30 202.06,437.42 201.81,437.58 201.56,437.74 201.31,438.01 201.06,438.04 200.81,438.19 200.56,438.35 200.31,438.30 200.06,438.35 199.81,438.40 199.56,438.50 199.31,438.32 199.06,438.39 198.81,438.23 198.55,438.16 198.30,438.02 198.05,438.03 197.80,437.91 197.55,437.89 197.30,438.00 197.05,437.86 196.80,437.85 196.55,437.73 196.30,437.70 196.05,437.64 195.80,437.66 195.55,437.74 195.30,437.95 195.05,438.04 194.79,438.16 194.54,438.39 194.29,438.50 194.04,438.54 193.79,438.61 193.54,438.85 193.29,438.87 193.04,438.80 192.79,438.77 192.54,438.60 192.29,438.19 192.04,438.02 191.79,437.78 191.54,437.60 191.28,437.48 191.03,437.42 190.78,437.13 190.53,437.03 190.28,436.79 190.03,436.70 189.78,436.70 189.53,436.70 189.28,436.70 189.03,436.70 188.78,436.70 188.53,436.70 188.28,436.70 188.03,436.70 187.77,436.70 187.52,436.70 187.27,436.70 187.02,436.70 186.77,436.70 186.52,436.70 186.27,436.70 186.02,436.70 185.77,436.70 185.52,436.70 185.27,436.70 185.02,436.70 184.77,436.70 184.52,436.70 184.26,436.89 184.01,436.98 183.76,437.16 183.51,437.33 183.26,437.42 183.01,437.48 182.76,437.65 182.51,437.78 182.26,438.07 182.01,438.20 181.76,438.30 181.51,438.39 181.26,438.45 181.01,438.41 180.75,438.36 180.50,438.26 180.25,438.22 180.00,438.31 179.75,438.16 179.50,438.08 179.25,437.22 179.00,436.70" fill="#2274b5"/><path d="M179.00,428.32V437.10M179.25,427.07V439.30M179.50,426.71V439.35M179.75,423.54V441.92M180.00,426.97V442.19M180.25,427.69V439.06M180.50,425.53V444.00M180.75,428.13V442.99M181.01,426.69V438.89M181.26,423.58V439.59M181.51,425.73V442.06M181.76,425.61V439.27M182.01,425.86V439.61M182.26,427.68V438.20M182.51,427.85V439.90M182.76,428.59V440.21M183.01,426.44V437.60M183.26,427.50V441.02M183.51,429.66V438.82M183.76,427.70V439.03M184.01,428.93V440.12M184.26,428.53V437.67M184.52,429.86V438.15M184.77,429.17V437.00M185.02,429.14V436.79M185.27,428.22V436.90M185.52,430.20V438.54M185.77,428.56V436.78M186.02,426.99V437.95M186.27,428.22V440.17M186.52,430.19V438.82M186.77,427.37V438.79M187.02,428.87V438.87M187.27,429.57V438.25M187.52,428.91V437.82M187.77,428.85V437.53M188.03,428.43V439.03M188.28,426.78V440.27M188.53,429.69V437.17M188.78,430.24V437.01M189.03,430.20V440.36M189.28,428.31V439.69M189.53,428.36V439.26M189.78,428.87V438.28M190.03,428.45V439.37M190.28,429.51V439.54M190.53,423.98V438.15M190.78,427.53V439.39M191.03,427.05V438.09M191.28,425.92V439.82M191.54,426.00V439.61M191.79,428.19V440.01M192.04,423.85V439.09M192.29,428.72V438.43M192.54,428.12V442.03M192.79,428.02V438.90M193.04,424.10V444.00M193.29,427.68V441.35M193.54,427.94V440.80M193.79,426.12V438.79M194.04,425.30V440.38M194.29,428.18V439.26M194.54,428.07V440.53M194.79,426.20V438.82M195.05,427.47V438.68M195.30,429.04V441.58M195.55,429.09V441.16M195.80,427.80V438.40M196.05,424.20V437.87M196.30,428.92V438.10M196.55,428.19V438.68M196.80,426.59V438.56M197.05,427.69V438.10M197.30,425.75V438.63M197.55,428.73V438.27M197.80,427.93V439.37M198.05,424.45V439.28M198.30,428.33V438.78M198.55,427.77V439.99M198.81,428.03V440.04M199.06,427.34V439.00M199.31,424.30V439.87M199.56,425.00V441.52M199.81,427.91V442.99M200.06,425.91V438.78M200.31,423.00V439.39M200.56,424.30V442.13M200.81,427.03V441.77M201.06,427.95V438.78M201.31,424.26V442.33M201.56,429.00V438.35M201.81,426.33V439.28M202.06,428.58V438.35M202.32,429.45V439.56M202.57,428.21V437.24M202.82,428.46V438.23M203.07,428.23V437.47M203.32,429.71V437.40M203.57,428.38V439.85M203.82,429.19V436.81M204.07,429.71V439.96M204.32,429.60V437.85M204.57,428.64V441.03M204.82,429.66V438.42M205.07,429.57V437.85M205.32,430.27V438.15M205.57,425.00V436.94M205.83,429.26V438.01M206.08,427.03V438.88M206.33,429.70V437.28M206.58,428.79V437.74M206.83,430.22V438.44M207.08,426.54V437.01M207.33,430.21V437.08M207.58,427.72V436.76M207.83,427.48V438.56M208.08,429.94V437.08M208.33,428.79V438.71M208.58,427.40V438.46M208.83,429.65V437.96M209.08,427.38V438.69M209.34,429.35V437.65M209.59,429.39V438.68M209.84,429.84V438.81M210.09,428.55V438.34M210.34,429.91V438.05M210.59,429.00V437.20M210.84,428.45V436.89M211.09,429.31V438.86M211.34,428.44V438.14M211.59,426.82V442.56M211.84,424.76V437.62M212.09,429.17V440.84M212.34,429.42V439.53M212.59,429.65V438.07M212.85,428.42V440.24M213.10,427.53V437.98M213.35,428.84V436.97M213.60,429.89V437.89M213.85,429.66V437.66M214.10,428.59V437.39M214.35,428.33V438.87M214.60,430.25V438.12M214.85,429.62V437.13M215.10,428.96V439.76M215.35,428.31V437.43M215.60,425.44V438.53M215.85,430.09V438.07M216.10,426.35V437.15M216.35,429.60V439.03M216.61,429.35V437.99M216.86,429.32V440.39M217.11,427.02V437.79M217.36,428.99V440.59M217.61,429.08V437.07M217.86,429.47V438.01M218.11,429.64V439.95M218.36,429.59V438.12M218.61,429.67V437.86M218.86,429.64V441.13M219.11,427.96V437.19M219.36,428.17V440.50M219.61,429.96V440.76M219.86,427.89V439.80M220.12,428.80V437.29M220.37,425.02V438.15M220.62,425.87V438.22M220.87,429.17V438.33M221.12,429.00V439.20M221.37,427.33V442.57M221.62,428.91V442.99M221.87,423.45V441.74M222.12,426.89V440.02M222.37,424.89V438.27M222.62,428.52V439.11M222.87,428.29V439.73M223.12,428.22V441.80M223.37,427.31V444.00M223.63,428.14V439.38M223.88,426.84V440.69M224.13,425.19V439.10M224.38,425.83V439.25M224.63,428.21V443.03M224.88,426.52V438.71M225.13,426.92V443.00M225.38,423.00V440.75M225.63,426.88V440.53M225.88,426.54V442.87M226.13,423.70V440.81M226.38,427.64V440.47M226.63,427.26V440.82M226.88,423.00V439.30M227.14,424.56V440.04M227.39,427.78V439.05M227.64,424.42V438.71M227.89,424.48V440.33M228.14,426.09V441.77M228.39,427.58V440.01M228.64,423.62V439.91M228.89,428.76V438.89M229.14,428.92V439.43M229.39,429.42V440.44M229.64,428.56V438.36M229.89,428.31V441.31M230.14,428.87V438.37M230.39,428.69V441.27M230.65,424.68V438.23M230.90,425.57V442.80M231.15,428.18V438.29M231.40,426.93V438.35M231.65,426.96V439.78M231.90,426.55V438.46M232.15,425.75V444.00M232.40,425.52V439.86M232.65,425.90V440.93M232.90,424.98V440.01M233.15,428.28V441.65M233.40,425.50V440.03M233.65,423.00V443.12M233.90,427.17V439.02M234.15,427.79V444.00M234.41,426.99V441.04M234.66,426.80V438.76M234.91,425.81V440.42M235.16,426.58V442.24M235.41,426.04V442.91M235.66,427.85V441.96M235.91,427.07V441.30M236.16,427.28V438.50M236.41,423.00V439.86M236.66,427.99V437.95M236.91,428.67V440.48M237.16,428.60V441.25M237.41,429.07V437.33M237.66,429.65V439.97M237.92,429.27V438.79M238.17,427.81V438.71M238.42,425.90V438.43M238.67,429.62V437.17M238.92,426.82V438.52M239.17,430.09V437.58M239.42,428.87V437.54M239.67,429.71V437.23M239.92,430.07V436.95M240.17,428.11V436.74M240.42,428.62V438.56M240.67,429.84V437.98M240.92,428.25V437.05M241.17,428.26V438.88M241.43,425.86V440.58M241.68,429.88V438.12M241.93,430.07V436.90M242.18,427.33V439.23M242.43,428.27V436.79M242.68,427.60V437.06M242.93,429.01V437.23M243.18,428.89V436.77M243.43,429.36V437.70M243.68,426.20V438.43M243.93,428.76V437.14M244.18,429.90V439.10M244.43,429.08V438.44M244.68,429.52V439.63M244.94,426.92V439.66M245.19,428.53V439.46M245.44,427.20V437.30M245.69,427.27V437.75M245.94,428.51V438.99M246.19,429.48V437.48M246.44,428.93V437.94M246.69,429.62V436.76M246.94,429.27V437.64M247.19,430.17V436.76M247.44,429.21V437.52M247.69,428.16V437.11M247.94,428.60V439.01M248.19,429.17V441.06M248.45,428.72V438.25M248.70,429.69V440.26M248.95,427.04V440.45M249.20,428.44V437.98M249.45,428.78V438.11M249.70,430.16V437.57M249.95,429.05V436.85M250.20,428.33V441.04M250.45,429.08V438.69M250.70,428.46V437.14M250.95,428.59V437.42M251.20,428.55V438.45M251.45,427.29V436.75M251.70,429.35V438.66M251.95,430.03V438.71M252.21,430.27V436.88M252.46,429.20V438.73M252.71,429.64V437.17M252.96,429.99V436.86M253.21,428.57V438.67M253.46,429.53V437.59M253.71,428.72V437.39M253.96,429.55V437.51M254.21,426.42V437.41M254.46,426.89V438.54M254.71,429.03V437.43M254.96,429.46V436.82M255.21,430.21V437.25M255.46,426.83V437.13M255.72,426.04V437.41M255.97,428.91V438.07M256.22,429.88V437.22M256.47,427.55V440.06M256.72,428.25V440.62M256.97,428.44V439.75M257.22,428.27V437.95M257.47,427.67V437.27M257.72,429.69V436.81M257.97,429.21V440.07M258.22,429.93V436.94M258.47,428.43V437.82M258.72,429.83V438.30M258.97,430.22V440.04M259.23,426.21V437.42M259.48,428.35V437.58M259.73,428.41V437.50M259.98,426.98V437.32M260.23,424.87V439.41M260.48,427.64V438.86M260.73,428.93V439.40M260.98,427.84V438.86M261.23,427.79V439.17M261.48,429.03V439.60M261.73,426.66V438.53M261.98,425.77V438.29M262.23,429.09V437.62M262.48,426.71V438.95M262.74,428.09V438.37M262.99,428.08V438.13M263.24,428.47V436.91M263.49,427.23V439.52M263.74,425.68V438.83M263.99,429.78V437.14M264.24,429.98V437.22M264.49,429.89V438.88M264.74,426.19V436.70M264.99,428.93V436.95M265.24,429.88V438.45M265.49,429.07V438.22M265.74,429.63V438.01M265.99,426.38V441.13M266.25,427.49V437.28M266.50,425.48V438.21M266.75,429.88V437.10M267.00,429.26V437.11M267.25,429.24V438.13M267.50,429.54V437.55M267.75,427.99V436.80M268.00,428.58V437.05" stroke="#2274b5" stroke-width="0.4" fill="none" opacity="0.7"/><text x="173" y="393.0" font-family="Liberation Sans" font-size="3.2" fill="#888" text-anchor="end">10000</text><text x="173" y="403.5" font-family="Liberation Sans" font-size="3.2" fill="#888" text-anchor="end">0</text><text x="173" y="414.5" font-family="Liberation Sans" font-size="3.2" fill="#888" text-anchor="end">-10000</text><text x="173" y="424.0" font-family="Liberation Sans" font-size="3.2" fill="#888" text-anchor="end">10000</text><text x="173" y="434.5" font-family="Liberation Sans" font-size="3.2" fill="#888" text-anchor="end">0</text><text x="173" y="445.5" font-family="Liberation Sans" font-size="3.2" fill="#888" text-anchor="end">-10000</text><text x="179.0" y="418.8" font-family="Liberation Sans" font-size="3.2" fill="#888" text-anchor="middle">0</text><text x="198.8" y="418.8" font-family="Liberation Sans" font-size="3.2" fill="#888" text-anchor="middle">20</text><text x="218.6" y="418.8" font-family="Liberation Sans" font-size="3.2" fill="#888" text-anchor="middle">40</text><text x="238.4" y="418.8" font-family="Liberation Sans" font-size="3.2" fill="#888" text-anchor="middle">60</text><text x="258.2" y="418.8" font-family="Liberation Sans" font-size="3.2" fill="#888" text-anchor="middle">80</text><text x="179.0" y="449.5" font-family="Liberation Sans" font-size="3.2" fill="#888" text-anchor="middle">0</text><text x="198.8" y="449.5" font-family="Liberation Sans" font-size="3.2" fill="#888" text-anchor="middle">20</text><text x="218.6" y="449.5" font-family="Liberation Sans" font-size="3.2" fill="#888" text-anchor="middle">40</text><text x="238.4" y="449.5" font-family="Liberation Sans" font-size="3.2" fill="#888" text-anchor="middle">60</text><text x="258.2" y="449.5" font-family="Liberation Sans" font-size="3.2" fill="#888" text-anchor="middle">80</text><text x="197.4" y="466.6" font-family="Liberation Sans" font-size="11" font-weight="bold" font-style="normal" fill="#222" text-anchor="start" textLength="45" lengthAdjust="spacingAndGlyphs">Acoustic</text><defs><clipPath id="pc8"><path d="M407.9,330.6 L458.2,330.6 L443.7,346.8 L394.2,346.8 Z"/></clipPath></defs><path d="M407.9,330.6 L458.2,330.6 L443.7,346.8 L394.2,346.8 Z" fill="#8eaadb"/><g clip-path="url(#pc8)"><line x1="396.58" y1="330.6" x2="396.58" y2="346.8" stroke="#1e2a48" stroke-width="0.9"/><line x1="400.55" y1="330.6" x2="400.55" y2="346.8" stroke="#1e2a48" stroke-width="0.9"/><line x1="404.52" y1="330.6" x2="404.52" y2="346.8" stroke="#1e2a48" stroke-width="0.9"/><line x1="408.49" y1="330.6" x2="408.49" y2="346.8" stroke="#1e2a48" stroke-width="0.9"/><line x1="412.46" y1="330.6" x2="412.46" y2="346.8" stroke="#1e2a48" stroke-width="0.9"/><line x1="416.43" y1="330.6" x2="416.43" y2="346.8" stroke="#1e2a48" stroke-width="0.9"/><line x1="420.40" y1="330.6" x2="420.40" y2="346.8" stroke="#1e2a48" stroke-width="0.9"/><line x1="424.37" y1="330.6" x2="424.37" y2="346.8" stroke="#1e2a48" stroke-width="0.9"/><line x1="428.34" y1="330.6" x2="428.34" y2="346.8" stroke="#1e2a48" stroke-width="0.9"/><line x1="432.31" y1="330.6" x2="432.31" y2="346.8" stroke="#1e2a48" stroke-width="0.9"/><line x1="436.28" y1="330.6" x2="436.28" y2="346.8" stroke="#1e2a48" stroke-width="0.9"/><line x1="440.25" y1="330.6" x2="440.25" y2="346.8" stroke="#1e2a48" stroke-width="0.9"/><line x1="444.22" y1="330.6" x2="444.22" y2="346.8" stroke="#1e2a48" stroke-width="0.9"/><line x1="448.19" y1="330.6" x2="448.19" y2="346.8" stroke="#1e2a48" stroke-width="0.9"/><line x1="452.16" y1="330.6" x2="452.16" y2="346.8" stroke="#1e2a48" stroke-width="0.9"/><line x1="456.13" y1="330.6" x2="456.13" y2="346.8" stroke="#1e2a48" stroke-width="0.9"/><line x1="394.2" y1="333.84" x2="458.2" y2="333.84" stroke="#1e2a48" stroke-width="0.9"/><line x1="394.2" y1="337.08" x2="458.2" y2="337.08" stroke="#1e2a48" stroke-width="0.9"/><line x1="394.2" y1="340.32" x2="458.2" y2="340.32" stroke="#1e2a48" stroke-width="0.9"/><line x1="394.2" y1="343.56" x2="458.2" y2="343.56" stroke="#1e2a48" stroke-width="0.9"/></g><path d="M407.9,330.6 L458.2,330.6 L443.7,346.8 L394.2,346.8 Z" fill="none" stroke="#1e2a48" stroke-width="1.1"/><path d="M426.3,347.5 L424.6,351.5 L428.0,351.5 Z" fill="#000"/><line x1="426.3" y1="351" x2="426.3" y2="353.6" stroke="#000" stroke-width="1.6"/><rect x="371.7" y="353.6" width="109" height="17.6" rx="3.5" ry="3.5" fill="#8eaadb" stroke="#2e3c62" stroke-width="1"/><text x="379.4" y="366.4" font-family="Liberation Sans" font-size="11" font-weight="normal" font-style="normal" fill="#27334f" text-anchor="start" textLength="93.3" lengthAdjust="spacingAndGlyphs">Sequence Encoder</text><path d="M426.3,371.8 L424.6,375.8 L428.0,375.8 Z" fill="#000"/><line x1="426.3" y1="375.3" x2="426.3" y2="379.5" stroke="#000" stroke-width="1.6"/><rect x="359.3" y="379.5" width="133.5" height="19" rx="3.5" ry="3.5" fill="#8eaadb" stroke="#2e3c62" stroke-width="1"/><text x="391.3" y="392.9" font-family="Liberation Sans" font-size="11" font-weight="normal" font-style="normal" fill="#27334f" text-anchor="start" textLength="68.6" lengthAdjust="spacingAndGlyphs">BERT Encoder</text><path d="M426.3,399 L424.6,403 L428.0,403 Z" fill="#000"/><line x1="426.3" y1="402.5" x2="426.3" y2="405.7" stroke="#000" stroke-width="1.6"/><rect x="303.4" y="405.7" width="242.3" height="44.3" fill="none" stroke="#6a789a" stroke-width="1.1" stroke-dasharray="3.4,2.3"/><rect x="316.00" y="414.4" width="28.7" height="17.8" fill="#ffd966" stroke="#4e4424" stroke-width="1"/><text x="329.15" y="426" font-family="Liberation Sans" font-size="7" fill="#8a7340" text-anchor="middle">E<tspan font-size="4.5" dy="1.5">0</tspan></text><text x="330.35" y="444.7" font-family="Liberation Sans" font-size="7.2" font-weight="bold" fill="#3a3a3a" text-anchor="middle">[CLS]</text><rect x="355.10" y="414.4" width="28.7" height="17.8" fill="#ffd966" stroke="#4e4424" stroke-width="1"/><text x="368.25" y="426" font-family="Liberation Sans" font-size="7" fill="#8a7340" text-anchor="middle">E<tspan font-size="4.5" dy="1.5">1</tspan></text><text x="369.45" y="444.7" font-family="Liberation Sans" font-size="7.2" font-weight="bold" fill="#3a3a3a" text-anchor="middle">I</text><rect x="394.20" y="414.4" width="28.7" height="17.8" fill="#ffd966" stroke="#4e4424" stroke-width="1"/><text x="407.35" y="426" font-family="Liberation Sans" font-size="7" fill="#8a7340" text-anchor="middle">E<tspan font-size="4.5" dy="1.5">2</tspan></text><text x="408.55" y="444.7" font-family="Liberation Sans" font-size="7.2" font-weight="bold" fill="#3a3a3a" text-anchor="middle">can</text><rect x="433.30" y="414.4" width="28.7" height="17.8" fill="#ffd966" stroke="#4e4424" stroke-width="1"/><text x="447.65" y="424" font-family="Liberation Sans" font-size="5" fill="#9a8040" text-anchor="middle">......</text><text x="447.65" y="441.5" font-family="Liberation Sans" font-size="7.2" font-weight="bold" fill="#3a3a3a" text-anchor="middle">......</text><rect x="472.40" y="414.4" width="28.7" height="17.8" fill="#ffd966" stroke="#4e4424" stroke-width="1"/><text x="485.55" y="426" font-family="Liberation Sans" font-size="7" fill="#8a7340" text-anchor="middle">E<tspan font-size="4.5" dy="1.5">n</tspan></text><text x="486.75" y="444.7" font-family="Liberation Sans" font-size="7.2" font-weight="bold" fill="#3a3a3a" text-anchor="middle">hit</text><rect x="511.50" y="414.4" width="28.7" height="17.8" fill="#ffd966" stroke="#4e4424" stroke-width="1"/><text x="524.65" y="426" font-family="Liberation Sans" font-size="7" fill="#8a7340" text-anchor="middle">E<tspan font-size="4.5" dy="1.5">n+1</tspan></text><text x="525.85" y="444.7" font-family="Liberation Sans" font-size="7.2" font-weight="bold" fill="#3a3a3a" text-anchor="middle">[SEP]</text><text x="414" y="466.3" font-family="Liberation Sans" font-size="11" font-weight="bold" font-style="normal" fill="#222" text-anchor="start" textLength="22.5" lengthAdjust="spacingAndGlyphs">Text</text><line x1="635" y1="301" x2="635" y2="316.5" stroke="#000" stroke-width="1.8"/><defs><clipPath id="pc9"><path d="M618.6,316 L667.2,316 L653.8,333 L603.3,333 Z"/></clipPath></defs><path d="M618.6,316 L667.2,316 L653.8,333 L603.3,333 Z" fill="#f4b183"/><g clip-path="url(#pc9)"><line x1="605.68" y1="316" x2="605.68" y2="333" stroke="#4a2a18" stroke-width="0.9"/><line x1="609.65" y1="316" x2="609.65" y2="333" stroke="#4a2a18" stroke-width="0.9"/><line x1="613.62" y1="316" x2="613.62" y2="333" stroke="#4a2a18" stroke-width="0.9"/><line x1="617.59" y1="316" x2="617.59" y2="333" stroke="#4a2a18" stroke-width="0.9"/><line x1="621.56" y1="316" x2="621.56" y2="333" stroke="#4a2a18" stroke-width="0.9"/><line x1="625.53" y1="316" x2="625.53" y2="333" stroke="#4a2a18" stroke-width="0.9"/><line x1="629.50" y1="316" x2="629.50" y2="333" stroke="#4a2a18" stroke-width="0.9"/><line x1="633.47" y1="316" x2="633.47" y2="333" stroke="#4a2a18" stroke-width="0.9"/><line x1="637.44" y1="316" x2="637.44" y2="333" stroke="#4a2a18" stroke-width="0.9"/><line x1="641.41" y1="316" x2="641.41" y2="333" stroke="#4a2a18" stroke-width="0.9"/><line x1="645.38" y1="316" x2="645.38" y2="333" stroke="#4a2a18" stroke-width="0.9"/><line x1="649.35" y1="316" x2="649.35" y2="333" stroke="#4a2a18" stroke-width="0.9"/><line x1="653.32" y1="316" x2="653.32" y2="333" stroke="#4a2a18" stroke-width="0.9"/><line x1="657.29" y1="316" x2="657.29" y2="333" stroke="#4a2a18" stroke-width="0.9"/><line x1="661.26" y1="316" x2="661.26" y2="333" stroke="#4a2a18" stroke-width="0.9"/><line x1="665.23" y1="316" x2="665.23" y2="333" stroke="#4a2a18" stroke-width="0.9"/><line x1="603.3" y1="319.40" x2="667.2" y2="319.40" stroke="#4a2a18" stroke-width="0.9"/><line x1="603.3" y1="322.80" x2="667.2" y2="322.80" stroke="#4a2a18" stroke-width="0.9"/><line x1="603.3" y1="326.20" x2="667.2" y2="326.20" stroke="#4a2a18" stroke-width="0.9"/><line x1="603.3" y1="329.60" x2="667.2" y2="329.60" stroke="#4a2a18" stroke-width="0.9"/></g><path d="M618.6,316 L667.2,316 L653.8,333 L603.3,333 Z" fill="none" stroke="#4a2a18" stroke-width="1.1"/><path d="M635,333.5 L633.3,337.5 L636.7,337.5 Z" fill="#000"/><line x1="635" y1="337" x2="635" y2="339.4" stroke="#000" stroke-width="1.6"/><rect x="580.8" y="339.4" width="108.6" height="17.9" rx="3" ry="3" fill="#f4b183" stroke="#6a4228" stroke-width="1"/><text x="588" y="352.4" font-family="Liberation Sans" font-size="11" font-weight="normal" font-style="normal" fill="#5a3418" text-anchor="start" textLength="93.3" lengthAdjust="spacingAndGlyphs">Sequence Encoder</text><path d="M635,357.8 L633.3,361.8 L636.7,361.8 Z" fill="#000"/><line x1="635" y1="361.3" x2="635" y2="364.3" stroke="#000" stroke-width="1.6"/><path d="M590.3,364.3 L680.8,364.3 L685.4,383 L585.4,383 Z" fill="#f4b183" stroke="#6a4228" stroke-width="1"/><text x="594.9" y="378" font-family="Liberation Sans" font-size="11" font-weight="normal" font-style="normal" fill="#5a3418" text-anchor="start" textLength="80.3" lengthAdjust="spacingAndGlyphs">Facet/Openface</text><path d="M635,383.5 L633.3,387.5 L636.7,387.5 Z" fill="#000"/><line x1="635" y1="387" x2="635" y2="390" stroke="#000" stroke-width="1.6"/><defs><linearGradient id="bgp" x1="0" y1="0" x2="1" y2="0"><stop offset="0" stop-color="#aaa45c"/><stop offset="0.25" stop-color="#d3ce8e"/><stop offset="0.5" stop-color="#c9c27c"/><stop offset="0.75" stop-color="#b0a764"/><stop offset="1" stop-color="#857a48"/></linearGradient><filter id="pb" filterUnits="userSpaceOnUse" x="590" y="383" width="88" height="68"><feGaussianBlur stdDeviation="0.9"/></filter><clipPath id="pc"><rect x="597.6" y="390" width="72.6" height="53.6"/></clipPath></defs><g clip-path="url(#pc)"><g filter="url(#pb)"><rect x="594" y="386" width="80" height="62" fill="url(#bgp)"/><rect x="594" y="386" width="80" height="6" fill="#9c9654" opacity="0.75"/><path d="M652,396 L671,394 L671,440 L654,440 Z" fill="#7a7048" opacity="0.55"/><path d="M655,401 q5,-3 10,2 q-1,9 -7,12 z" fill="#3e3628" opacity="0.55"/><path d="M656,418 l10,-2 l2,10 l-10,2 z" fill="#4a4030" opacity="0.5"/><rect x="650" y="421" width="7" height="7" fill="#e8e2cc" opacity="0.55"/><path d="M605,425 q3,-3 8,-2 l0,22 l-10,0 z" fill="#2e2c28" opacity="0.8"/><path d="M608,444 Q609,429 622,425 L654,425 Q665,428 671,436 L671,444 Z" fill="#363535"/><path d="M627,444 Q630,437 636,437.5 Q642,436 646,444" fill="none" stroke="#4f8a7c" stroke-width="1.8" opacity="0.8"/><path d="M632,418 L644,418 L645,427 Q638,431 631,427 Z" fill="#b8987c"/><ellipse cx="638.3" cy="412" rx="7.8" ry="11" fill="#cbae94"/><path d="M629.3,417 Q627,401 632,397 Q633,393 637,393.5 Q640,392 643,394.5 Q648,396 648.5,403 Q649,410 647.3,417 Q646,405 639,402 Q631,403.5 629.3,417 Z" fill="#2a2420"/><ellipse cx="634.5" cy="409" rx="2.1" ry="1" fill="#3e3028"/><ellipse cx="642" cy="409" rx="2.1" ry="1" fill="#3e3028"/><path d="M635,419 Q638.3,420.5 641.5,419" stroke="#7a4a40" stroke-width="0.9" fill="none"/></g></g><text x="620.2" y="466.6" font-family="Liberation Sans" font-size="11" font-weight="bold" font-style="normal" fill="#2a2a2a" text-anchor="start" textLength="31.2" lengthAdjust="spacingAndGlyphs">Visual</text><text x="167.8" y="328.4" font-family="Liberation Serif" font-size="12.5" font-style="italic" fill="#222" textLength="10.5" lengthAdjust="spacingAndGlyphs">M</text><text x="178.10000000000002" y="330.7" font-family="Liberation Serif" font-size="9" font-style="italic" fill="#222">a</text><text x="463.3" y="342.2" font-family="Liberation Serif" font-size="12.5" font-style="italic" fill="#222" textLength="10.5" lengthAdjust="spacingAndGlyphs">M</text><text x="473.6" y="344.5" font-family="Liberation Serif" font-size="9" font-style="italic" fill="#222">t</text><text x="673.7" y="329" font-family="Liberation Serif" font-size="12.5" font-style="italic" fill="#222" textLength="10.5" lengthAdjust="spacingAndGlyphs">M</text><text x="684.0" y="331.3" font-family="Liberation Serif" font-size="9" font-style="italic" fill="#222">v</text></svg><svg width="850" height="1100" style="position:absolute;left:0;top:0"><path d="M545.5,784 Q537.5,805 545.5,826" fill="none" stroke="#231f20" stroke-width="1.1"/><path d="M653.7,784 Q661.7,805 653.7,826" fill="none" stroke="#231f20" stroke-width="1.1"/><path d="M597.7,808 L600.5,805.5 L603.3,823.3 L606.3,790.3 L653.7,790.3" fill="none" stroke="#231f20" stroke-width="0.8"/><path d="M576,894 L578.5,892.3 L581,903.2 L584.6,883.5 L631.6,883.5" fill="none" stroke="#231f20" stroke-width="0.8"/><line x1="575.2" y1="908.3" x2="631.6" y2="908.3" stroke="#231f20" stroke-width="0.7"/><line x1="578" y1="624.7" x2="588.5" y2="624.7" stroke="#231f20" stroke-width="0.7"/><path d="M634,620.2 L633.4,617.6 L614.7,617.6 L624.736,625.55 L614.7,633.5 L634,633.5 L634.6,630.9" fill="none" stroke="#231f20" stroke-width="1.2" stroke-linejoin="miter"/><path d="M560.9,799.4 L560.3,796.8 L546.3,796.8 L553.8919999999999,803.7 L546.3,810.6 L560.9,810.6 L561.5,808.0" fill="none" stroke="#231f20" stroke-width="1.1" stroke-linejoin="miter"/><path d="M622.6,799.4 L622.0,796.8 L607.7,796.8 L615.448,803.7 L607.7,810.6 L622.6,810.6 L623.2,808.0" fill="none" stroke="#231f20" stroke-width="1.1" stroke-linejoin="miter"/><path d="M594,894.1 L593.4,891.5 L585.5,891.5 L589.92,895.95 L585.5,900.4 L594,900.4 L594.6,897.8" fill="none" stroke="#231f20" stroke-width="0.9" stroke-linejoin="miter"/></svg><div id="l0" class="hd" style="left:74.8px;top:90.612px;letter-spacing:-0.1983px;"><span class="pr"></span>ICMI ’21,</div><div id="l1" class="hd" style="left:382.4px;top:90.806px;letter-spacing:-0.2476px;"><span class="pr"></span>Wei Han, Hui Chen, Alexander Gelbukh, Amir Zadeh, Louis-philippe Morency, and Soujanya Poria</div><div id="l2" class="cap" style="left:75.0px;top:492.500px;word-spacing:-0.301px;letter-spacing:-0.0679px;"><span class="pr"></span>Figure 2: Overview of our Bi-Bimodal Fusion Network (BBFN). It learns two text-related pairs of representations, TA and TV, by</div><div id="l3" class="cap" style="left:75.0px;top:507.306px;word-spacing:0.414px;letter-spacing:0.0808px;"><span class="pr"></span>causing each pair of modalities to complement mutually. Finally, the four (two pairs) head representations are concatenated</div><div id="l4" class="cap" style="left:75.0px;top:522.209px;letter-spacing:0.0770px;"><span class="pr"></span>to generate the final prediction.</div><div id="l5" class="ln" style="left:75.0px;top:561.806px;word-spacing:-0.725px;"><span class="pr"></span>similarity measures such as KL-Divergence or Wasserstein distance</div><div id="l6" class="ln" style="left:75.0px;top:577.112px;word-spacing:0.165px;letter-spacing:0.0209px;"><span class="pr"></span>along the hidden dimension. However, we chose the discriminator</div><div id="l7" class="ln" style="left:75.0px;top:592.403px;word-spacing:0.253px;letter-spacing:0.0281px;"><span class="pr"></span>loss because—unlike geometric measures, which directly use hid-</div><div id="l8" class="ln" style="left:75.0px;top:607.709px;word-spacing:0.075px;letter-spacing:0.0133px;"><span class="pr"></span>den vectors—it is a parametric method, so it is more suitable to be</div><div id="l9" class="ln" style="left:75.0px;top:623.000px;letter-spacing:0.0742px;"><span class="pr"></span>coalesced into the entire model.</div><div id="l10" class="ln" style="left:88.9px;top:638.306px;word-spacing:0.292px;letter-spacing:0.0378px;"><span class="pr"></span>Namely, after collecting the outputs from the previous comple-</div><div id="l11" class="ln" style="left:75.0px;top:646.394px;word-spacing:2.154px;letter-spacing:0.1488px;"><span class="pr"></span>mentation layer <i>X</i><span class="ss"><span><i>i</i>−1</span><span><i>m</i></span></span> = (<i>x</i><span class="ss"><span><i>i</i>−1</span><span><i>m</i>,0</span></span>, <i>x</i><span class="ss"><span><i>i</i>−1</span><span><i>m</i>,1</span></span>, ..., <i>x</i><span class="ss"><span><i>i</i>−1</span><span><i>m</i>,<i>n</i>+1</span></span>), we encode the se-</div><div id="l12" class="ln" style="left:75.0px;top:668.903px;word-spacing:-0.340px;"><span class="pr"></span>quence with a bidirectonal GRU and then apply an average pooling</div><div id="l13" class="ln" style="left:75.0px;top:684.209px;letter-spacing:0.0851px;"><span class="pr"></span>to acquire sequence-level hidden representations:</div><div id="l14" class="ln eq" style="left:112px;top:701.297px;letter-spacing:0.3604px;"><span class="pr"></span><b class="hb">h</b><span class="ss"><span><i>i</i></span><span><i>m</i></span></span> = avgpool(<b>h</b><span class="ss"><span><i>i</i></span><span><i>m</i></span></span>) = avgpool(BiGRU(<i>X</i><span class="ss"><span><i>i</i>−1</span><span><i>m</i></span></span>; <i>θ</i><span class="ss"><span><i>i</i></span><span><i>m</i></span></span>)).</div><div id="l15" class="ln" style="left:75.0px;top:727.587px;word-spacing:-0.336px;"><span class="pr"></span>where <i>θ</i><span class="ss"><span><i>i</i></span><span><i>m</i></span></span> are the parameters of the BiGRU in the <i>i</i>th layer. Here we</div><div id="l16" class="ln" style="left:75.0px;top:750.000px;word-spacing:0.005px;letter-spacing:0.0007px;"><span class="pr"></span>choose BiGRU as the intermediate sequence encoder because with</div><div id="l17" class="ln" style="left:75.0px;top:765.209px;word-spacing:-0.987px;"><span class="pr"></span>fewer parameters, in our experiments it provided results comparable</div><div id="l18" class="ln" style="left:75.0px;top:780.403px;word-spacing:0.379px;letter-spacing:0.0661px;"><span class="pr"></span>with those of BiLSTM. Note that until now we just described the</div><div id="l19" class="ln" style="left:75.0px;top:795.612px;word-spacing:-1.151px;"><span class="pr"></span>data flow of a single modality. In a complementation module, at each</div><div id="l20" class="ln" style="left:75.0px;top:810.806px;word-spacing:0.386px;letter-spacing:0.0585px;"><span class="pr"></span>layer <i>i</i> there are always two pipelines that generate the sequences</div><div id="l21" class="ln" style="left:75.0px;top:826.000px;word-spacing:-0.454px;"><span class="pr"></span>of hidden representations concurrently for two different modalities,</div><div id="l22" class="ln" style="left:75.0px;top:841.209px;letter-spacing:0.2478px;"><span class="pr"></span><i>m</i><span class="sb">1</span> and <i>m</i><span class="sb">2</span>.</div><div id="l23" class="ln" style="left:88.9px;top:856.403px;word-spacing:0.784px;letter-spacing:0.1046px;"><span class="pr"></span>Next we want to separate the possibly entangled intermediate</div><div id="l24" class="ln" style="left:75.0px;top:871.612px;word-spacing:0.465px;letter-spacing:0.0503px;"><span class="pr"></span>modality representations. Different from previous works that rely</div><div id="l25" class="ln" style="left:75.0px;top:886.806px;word-spacing:0.466px;letter-spacing:0.0628px;"><span class="pr"></span>on explicit distance maximization, we train a classifier to discern</div><div id="l26" class="ln" style="left:75.0px;top:902.000px;word-spacing:-0.588px;"><span class="pr"></span>which modality these representations come from. A straightforward</div><div id="l27" class="ln" style="left:75.0px;top:917.209px;word-spacing:0.531px;letter-spacing:0.0934px;"><span class="pr"></span>approach is directly fed all of them into the classifier, but it may</div><div id="l28" class="ln" style="left:75.0px;top:932.403px;word-spacing:1.368px;letter-spacing:0.1544px;"><span class="pr"></span>occur serious issue: random noises in sequence representations</div><div id="l29" class="ln" style="left:75.0px;top:947.612px;word-spacing:0.476px;letter-spacing:0.0700px;"><span class="pr"></span>cause the classifier to pay worthless effort on trivial features. We</div><div id="l30" class="ln" style="left:75.0px;top:962.806px;word-spacing:1.275px;letter-spacing:0.1821px;"><span class="pr"></span>introduce a simple group strategy to mitigate this issue, which</div><div id="l31" class="ln" style="left:75.0px;top:978.000px;word-spacing:1.176px;letter-spacing:0.1517px;"><span class="pr"></span>applies average operation on representations in the same group</div><div id="l32" class="ln" style="left:441.7px;top:561.806px;word-spacing:1.081px;letter-spacing:0.1146px;"><span class="pr"></span>to generate a smoother representation. Specifically, after setting</div><div id="l33" class="ln" style="left:441.7px;top:573.316px;word-spacing:1.252px;letter-spacing:0.1657px;"><span class="pr"></span>group size as <i>K</i>, the representation for the <i>r</i><span class="sp"><i>th</i></span> (<i>r</i> = 1, 2, ..., <i>N</i>/<i>K</i>)</div><div id="l34" class="ln" style="left:441.7px;top:592.403px;letter-spacing:-0.1788px;"><span class="pr"></span>group is:</div><div id="l35" class="ln" style="left:441.7px;top:690.806px;word-spacing:0.697px;letter-spacing:0.1105px;"><span class="pr"></span>We leave a short explanation about how this reduces noise here.</div><div id="l36" class="ln" style="left:441.7px;top:706.000px;word-spacing:0.915px;letter-spacing:0.1158px;"><span class="pr"></span>Suppose vectors possessing similar property (i.e. from the same</div><div id="l37" class="ln" style="left:441.7px;top:721.209px;word-spacing:1.059px;letter-spacing:0.1792px;"><span class="pr"></span>modality in context) can be fitted with a set of gaussian distri-</div><div id="l38" class="ln" style="left:441.7px;top:736.403px;word-spacing:-0.055px;"><span class="pr"></span>bution <span style="letter-spacing:0.5px">{<i>N</i>(<i>μ</i><span class="sb">1</span>, <i>σ</i><span class="sb">1</span>), <i>N</i>(<i>μ</i><span class="sb">2</span>, <i>σ</i><span class="sb">2</span>), <i>N</i>(<i>μ</i><span class="sb">3</span>, <i>σ</i><span class="sb">3</span>), ..., <i>N</i>(<i>μ</i><span class="sb"><i>n</i></span>, <i>σ</i><span class="sb"><i>n</i></span>)}</span> and corre-</div><div id="l39" class="ln" style="left:441.7px;top:751.612px;word-spacing:-0.198px;"><span class="pr"></span>sponding weights {<i>w</i><span class="sb">1</span>, <i>w</i><span class="sb">2</span>, <i>w</i><span class="sb">3</span>, ..., <i>w</i><span class="sb"><i>n</i></span>}. According to the rule for the</div><div id="l40" class="ln" style="left:441.7px;top:766.806px;letter-spacing:0.1033px;"><span class="pr"></span>summation of gaussian distributions, we have</div><div id="l41" class="ln" style="left:441.7px;top:842.709px;word-spacing:0.761px;letter-spacing:0.0954px;"><span class="pr"></span>By introducing the grouping trick, for each group representation</div><div id="l42" class="ln" style="left:441.7px;top:857.903px;word-spacing:0.641px;letter-spacing:0.0915px;"><span class="pr"></span>the new expectation term holds constant while the variance term</div><div id="l43" class="ln" style="left:441.7px;top:873.113px;letter-spacing:0.2297px;"><span class="pr"></span>turns to</div><div id="l44" class="ln" style="left:441.7px;top:933.000px;letter-spacing:0.0076px;"><span class="pr"></span>which decreases as group size increases.</div><div id="l45" class="ln" style="left:455.59999999999997px;top:948.209px;word-spacing:0.178px;letter-spacing:0.0272px;"><span class="pr"></span>The discriminators are distinct in every layer because of the di-</div><div id="l46" class="ln" style="left:441.7px;top:963.403px;word-spacing:-0.063px;"><span class="pr"></span>verse manifestations of the same modality in the semantic space as</div><div id="l47" class="ln" style="left:441.7px;top:978.613px;word-spacing:0.365px;letter-spacing:0.0442px;"><span class="pr"></span>fusion progresses which thus requires different sets of parameters</div><div id="e0" class="eqp" style="left:545px;top:613.297px;font-size:12.5px;letter-spacing:0.0250px;"><span class="pr"></span><b class="hb">h</b><span class="ss ss2"><span><i>i,r</i></span><span><i>m</i></span></span></div><div id="e1" class="eqp" style="left:566.5px;top:625.000px;font-size:12.5px;"><span class="pr"></span>=</div><div id="e2" class="eqp" style="left:580.5px;top:616.209px;font-size:11.5px;"><span class="pr"></span>1</div><div id="e3" class="eqp" style="left:578.3px;top:633.209px;font-size:11.5px;"><span class="pr"></span><i>K</i></div><div id="e4" class="eqp" style="left:620.3px;top:610.000px;font-size:9px;"><span class="pr"></span><i>K</i></div><div id="e5" class="eqp" style="left:592.6px;top:640.306px;font-size:9.8px;letter-spacing:0.6983px;"><span class="pr"></span><i>j</i>=1+(<i>r</i>−1)×<i>K</i></div><div id="e6" class="eqp" style="left:653.5px;top:613.297px;font-size:12.5px;letter-spacing:0.3937px;"><span class="pr"></span><b class="hb">h</b><span class="ss ss2"><span><i>i,j</i></span><span><i>m</i></span></span></div><div id="e7" class="eqp" style="left:760.8px;top:625.000px;font-size:12.5px;"><span class="pr"></span>(2)</div><div id="e8" class="eqp" style="left:537px;top:660.297px;font-size:12.5px;letter-spacing:0.5671px;"><span class="pr"></span><i>ĉ</i><span class="ss"><span><i>l</i></span><span><i>r</i></span></span>, <i>ĉ</i><span class="ss"><span><i>l</i></span><span><i>r</i>+<i>N</i><span style="font-size:6.5px"><i>b</i></span>/<i>K</i></span></span> = <i>D</i><span class="sb"><i>l</i></span>(<b class="hb">h</b><span class="ss"><span><i>i,r</i></span><span><i>m</i><span style="font-size:6.5px">1</span></span></span>, <b class="hb">h</b><span class="ss"><span><i>i,r</i></span><span><i>m</i><span style="font-size:6.5px">2</span></span></span>).</div><div id="e9" class="eqp" style="left:760.8px;top:667.209px;font-size:12.5px;"><span class="pr"></span>(3)</div><div id="e10" class="eqp" style="left:503.5px;top:804.403px;font-size:12.5px;"><span class="pr"></span><i>e</i></div><div id="e11" class="eqp" style="left:511.2px;top:805.403px;font-size:10px;"><span class="pr"></span>∼</div><div id="e12" class="eqp" style="left:526.5px;top:804.403px;font-size:13px;"><span class="pr"></span><i>N</i></div><div id="e13" class="eqp" style="left:551px;top:820.306px;font-size:8.75px;"><span class="pr"></span><i>n</i></div><div id="e14" class="eqp" style="left:563px;top:804.403px;font-size:12.5px;letter-spacing:1.4094px;"><span class="pr"></span><i>w</i><span class="sb"><i>n</i></span><i>μ</i><span class="sb"><i>n</i></span>,</div><div id="e15" class="eqp" style="left:612.5px;top:820.306px;font-size:8.75px;"><span class="pr"></span><i>n</i></div><div id="e16" class="eqp" style="left:626.6px;top:797.184px;font-size:12.5px;letter-spacing:0.4417px;"><span class="pr"></span><i>w</i><span class="ss"><span>2</span><span><i>n</i></span></span><i>σ</i><span class="ss"><span>2</span><span><i>n</i></span></span></div><div id="e17" class="eqp" style="left:663px;top:804.403px;font-size:12.5px;letter-spacing:0.3837px;"><span class="pr"></span>= <i>N</i>(<i>μ</i>, <i>σ</i>)</div><div id="e18" class="eqp" style="left:546px;top:906.806px;font-size:12.5px;letter-spacing:1.6094px;"><span class="pr"></span><i>σ</i><span class="sb"><i>g</i></span></div><div id="e19" class="eqp" style="left:562.8px;top:906.806px;font-size:12.5px;"><span class="pr"></span>=</div><div id="e20" class="eqp" style="left:594.5px;top:899.403px;font-size:8.75px;"><span class="pr"></span><i>n</i></div><div id="e21" class="eqp" style="left:602.5px;top:889.184px;font-size:12.5px;letter-spacing:0.9990px;"><span class="pr"></span><i>w</i><span class="ss"><span>2</span><span><i>n</i></span></span><i>σ</i><span class="ss"><span>2</span><span><i>n</i></span></span></div><div id="e22" class="eqp" style="left:599.6px;top:915.613px;font-size:12.5px;"><span class="pr"></span><i>K</i></div><div id="e23" class="eqp" style="left:637.3px;top:906.806px;font-size:12.5px;letter-spacing:0.5869px;"><span class="pr"></span>= <i>σ</i>/<i>K</i></div></body></html>
